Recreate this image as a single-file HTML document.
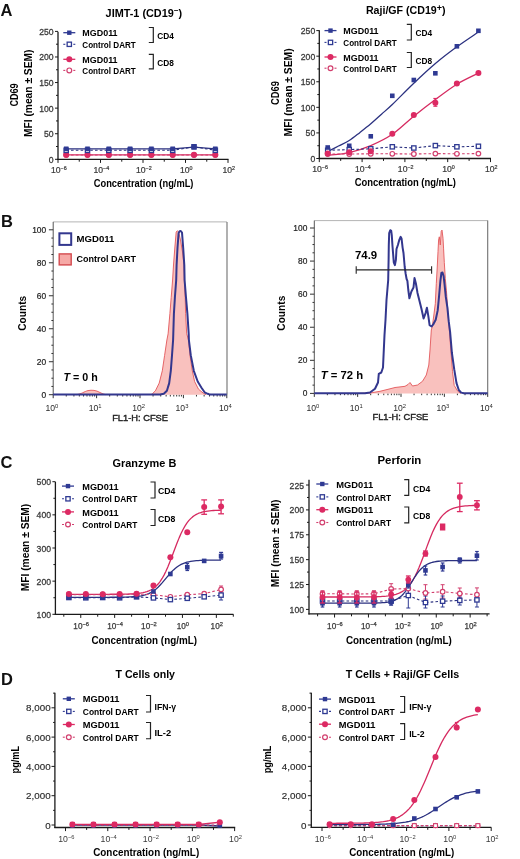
<!DOCTYPE html>
<html><head><meta charset="utf-8"><style>
html,body{margin:0;padding:0;background:#fff;}
svg{display:block;filter:blur(0.3px);font-family:"Liberation Sans",sans-serif;}
</style></head><body>
<svg width="520" height="859" viewBox="0 0 520 859">
<rect width="520" height="859" fill="#fff"/>
<text x="0.6" y="16.3" font-size="16.5" font-weight="bold" fill="#111" >A</text>
<line x1="58" y1="31.8" x2="58" y2="159.9" stroke="#1a1a1a" stroke-width="1.3" stroke-linecap="butt"/>
<line x1="57.4" y1="159.3" x2="228.5" y2="159.3" stroke="#1a1a1a" stroke-width="1.3" stroke-linecap="butt"/>
<line x1="55" y1="159.3" x2="58" y2="159.3" stroke="#1a1a1a" stroke-width="1.0" stroke-linecap="butt"/>
<text transform="translate(53.6 162.8) scale(0.9 1)" x="0" y="0" font-size="9.6" text-anchor="end" fill="#3a3a3a" stroke="#3a3a3a" stroke-width="0.3">0</text>
<line x1="55" y1="133.72" x2="58" y2="133.72" stroke="#1a1a1a" stroke-width="1.0" stroke-linecap="butt"/>
<text transform="translate(53.6 137.22) scale(0.9 1)" x="0" y="0" font-size="9.6" text-anchor="end" fill="#3a3a3a" stroke="#3a3a3a" stroke-width="0.3">50</text>
<line x1="55" y1="108.14" x2="58" y2="108.14" stroke="#1a1a1a" stroke-width="1.0" stroke-linecap="butt"/>
<text transform="translate(53.6 111.64) scale(0.9 1)" x="0" y="0" font-size="9.6" text-anchor="end" fill="#3a3a3a" stroke="#3a3a3a" stroke-width="0.3">100</text>
<line x1="55" y1="82.56" x2="58" y2="82.56" stroke="#1a1a1a" stroke-width="1.0" stroke-linecap="butt"/>
<text transform="translate(53.6 86.06) scale(0.9 1)" x="0" y="0" font-size="9.6" text-anchor="end" fill="#3a3a3a" stroke="#3a3a3a" stroke-width="0.3">150</text>
<line x1="55" y1="56.98" x2="58" y2="56.98" stroke="#1a1a1a" stroke-width="1.0" stroke-linecap="butt"/>
<text transform="translate(53.6 60.48) scale(0.9 1)" x="0" y="0" font-size="9.6" text-anchor="end" fill="#3a3a3a" stroke="#3a3a3a" stroke-width="0.3">200</text>
<line x1="55" y1="31.4" x2="58" y2="31.4" stroke="#1a1a1a" stroke-width="1.0" stroke-linecap="butt"/>
<text transform="translate(53.6 34.9) scale(0.9 1)" x="0" y="0" font-size="9.6" text-anchor="end" fill="#3a3a3a" stroke="#3a3a3a" stroke-width="0.3">250</text>
<line x1="56" y1="146.51" x2="58" y2="146.51" stroke="#1a1a1a" stroke-width="1.0" stroke-linecap="butt"/>
<line x1="56" y1="120.93" x2="58" y2="120.93" stroke="#1a1a1a" stroke-width="1.0" stroke-linecap="butt"/>
<line x1="56" y1="95.35" x2="58" y2="95.35" stroke="#1a1a1a" stroke-width="1.0" stroke-linecap="butt"/>
<line x1="56" y1="69.77" x2="58" y2="69.77" stroke="#1a1a1a" stroke-width="1.0" stroke-linecap="butt"/>
<line x1="56" y1="44.19" x2="58" y2="44.19" stroke="#1a1a1a" stroke-width="1.0" stroke-linecap="butt"/>
<line x1="58" y1="159.3" x2="58" y2="162.9" stroke="#1a1a1a" stroke-width="1.0" stroke-linecap="butt"/>
<text transform="translate(58.8 172.8) scale(0.9 1)" x="0" y="0" font-size="9.6" text-anchor="middle" fill="#3a3a3a" stroke="#3a3a3a" stroke-width="0.25">10<tspan font-size="5.95" dy="-2.88">&#8722;6</tspan></text>
<line x1="79.25" y1="159.3" x2="79.25" y2="161.7" stroke="#1a1a1a" stroke-width="1.0" stroke-linecap="butt"/>
<line x1="100.5" y1="159.3" x2="100.5" y2="162.9" stroke="#1a1a1a" stroke-width="1.0" stroke-linecap="butt"/>
<text transform="translate(101.3 172.8) scale(0.9 1)" x="0" y="0" font-size="9.6" text-anchor="middle" fill="#3a3a3a" stroke="#3a3a3a" stroke-width="0.25">10<tspan font-size="5.95" dy="-2.88">&#8722;4</tspan></text>
<line x1="121.75" y1="159.3" x2="121.75" y2="161.7" stroke="#1a1a1a" stroke-width="1.0" stroke-linecap="butt"/>
<line x1="143" y1="159.3" x2="143" y2="162.9" stroke="#1a1a1a" stroke-width="1.0" stroke-linecap="butt"/>
<text transform="translate(143.8 172.8) scale(0.9 1)" x="0" y="0" font-size="9.6" text-anchor="middle" fill="#3a3a3a" stroke="#3a3a3a" stroke-width="0.25">10<tspan font-size="5.95" dy="-2.88">&#8722;2</tspan></text>
<line x1="164.25" y1="159.3" x2="164.25" y2="161.7" stroke="#1a1a1a" stroke-width="1.0" stroke-linecap="butt"/>
<line x1="185.5" y1="159.3" x2="185.5" y2="162.9" stroke="#1a1a1a" stroke-width="1.0" stroke-linecap="butt"/>
<text transform="translate(186.3 172.8) scale(0.9 1)" x="0" y="0" font-size="9.6" text-anchor="middle" fill="#3a3a3a" stroke="#3a3a3a" stroke-width="0.25">10<tspan font-size="5.95" dy="-2.88">0</tspan></text>
<line x1="206.75" y1="159.3" x2="206.75" y2="161.7" stroke="#1a1a1a" stroke-width="1.0" stroke-linecap="butt"/>
<line x1="228" y1="159.3" x2="228" y2="162.9" stroke="#1a1a1a" stroke-width="1.0" stroke-linecap="butt"/>
<text transform="translate(228.8 172.8) scale(0.9 1)" x="0" y="0" font-size="9.6" text-anchor="middle" fill="#3a3a3a" stroke="#3a3a3a" stroke-width="0.25">10<tspan font-size="5.95" dy="-2.88">2</tspan></text>
<text x="105.6" y="17.3" font-size="10.2" font-weight="bold" textLength="76.5" lengthAdjust="spacingAndGlyphs" >JIMT-1 (CD19<tspan font-size="7.5" dy="-4.2">&#8722;</tspan><tspan dy="4.2">)</tspan></text>
<text x="143.6" y="187" font-size="10.2" font-weight="bold" text-anchor="middle" textLength="99.7" lengthAdjust="spacingAndGlyphs" >Concentration (ng/mL)</text>
<text x="17.8" y="95" font-size="10.2" font-weight="bold" text-anchor="middle" textLength="23.2" lengthAdjust="spacingAndGlyphs" transform="rotate(-90 17.8 95)" >CD69</text>
<text x="32.2" y="93.3" font-size="10.2" font-weight="bold" text-anchor="middle" textLength="87.5" lengthAdjust="spacingAndGlyphs" transform="rotate(-90 32.2 93.3)" >MFI (mean &#177; SEM)</text>
<polyline points="66.2,148.8 87.5,148.8 108.8,148.8 130.1,148.8 151.4,148.8 172.7,148.8 194,147.2 215.3,148.8" fill="none" stroke="#2b3180" stroke-width="1.3" stroke-linejoin="round"/>
<polyline points="66.2,150.3 87.5,150.3 108.8,150.3 130.1,150.3 151.4,150.3 172.7,150.3 194,146.8 215.3,150.3" fill="none" stroke="#2b3180" stroke-width="1.1" stroke-linejoin="round" stroke-dasharray="2.6,2.2"/>
<polyline points="66.2,154.8 87.5,154.8 108.8,154.8 130.1,154.8 151.4,154.8 172.7,154.8 194,154.8 215.3,154.8" fill="none" stroke="#d62a60" stroke-width="1.3" stroke-linejoin="round"/>
<polyline points="66.2,155 87.5,155 108.8,155 130.1,155 151.4,155 172.7,155 194,155 215.3,155" fill="none" stroke="#d23f6e" stroke-width="1.1" stroke-linejoin="round" stroke-dasharray="2.6,2.2"/>
<circle cx="66.2" cy="155" r="2.3" fill="#fff" stroke="#d23f6e" stroke-width="1.2"/>
<circle cx="87.5" cy="155" r="2.3" fill="#fff" stroke="#d23f6e" stroke-width="1.2"/>
<circle cx="108.8" cy="155" r="2.3" fill="#fff" stroke="#d23f6e" stroke-width="1.2"/>
<circle cx="130.1" cy="155" r="2.3" fill="#fff" stroke="#d23f6e" stroke-width="1.2"/>
<circle cx="151.4" cy="155" r="2.3" fill="#fff" stroke="#d23f6e" stroke-width="1.2"/>
<circle cx="172.7" cy="155" r="2.3" fill="#fff" stroke="#d23f6e" stroke-width="1.2"/>
<circle cx="194" cy="155" r="2.3" fill="#fff" stroke="#d23f6e" stroke-width="1.2"/>
<circle cx="215.3" cy="155" r="2.3" fill="#fff" stroke="#d23f6e" stroke-width="1.2"/>
<circle cx="66.2" cy="154.8" r="3" fill="#dc2a63"/>
<circle cx="87.5" cy="154.8" r="3" fill="#dc2a63"/>
<circle cx="108.8" cy="154.8" r="3" fill="#dc2a63"/>
<circle cx="130.1" cy="154.8" r="3" fill="#dc2a63"/>
<circle cx="151.4" cy="154.8" r="3" fill="#dc2a63"/>
<circle cx="172.7" cy="154.8" r="3" fill="#dc2a63"/>
<circle cx="194" cy="154.8" r="3" fill="#dc2a63"/>
<circle cx="215.3" cy="154.8" r="3" fill="#dc2a63"/>
<rect x="64.05" y="148.15" width="4.3" height="4.3" fill="#fff" stroke="#2f3a93" stroke-width="1.3"/>
<rect x="85.35" y="148.15" width="4.3" height="4.3" fill="#fff" stroke="#2f3a93" stroke-width="1.3"/>
<rect x="106.65" y="148.15" width="4.3" height="4.3" fill="#fff" stroke="#2f3a93" stroke-width="1.3"/>
<rect x="127.95" y="148.15" width="4.3" height="4.3" fill="#fff" stroke="#2f3a93" stroke-width="1.3"/>
<rect x="149.25" y="148.15" width="4.3" height="4.3" fill="#fff" stroke="#2f3a93" stroke-width="1.3"/>
<rect x="170.55" y="148.15" width="4.3" height="4.3" fill="#fff" stroke="#2f3a93" stroke-width="1.3"/>
<rect x="191.85" y="144.65" width="4.3" height="4.3" fill="#fff" stroke="#2f3a93" stroke-width="1.3"/>
<rect x="213.15" y="148.15" width="4.3" height="4.3" fill="#fff" stroke="#2f3a93" stroke-width="1.3"/>
<rect x="63.9" y="146.5" width="4.6" height="4.6" fill="#2f3a93"/>
<rect x="85.2" y="146.5" width="4.6" height="4.6" fill="#2f3a93"/>
<rect x="106.5" y="146.5" width="4.6" height="4.6" fill="#2f3a93"/>
<rect x="127.8" y="146.5" width="4.6" height="4.6" fill="#2f3a93"/>
<rect x="149.1" y="146.5" width="4.6" height="4.6" fill="#2f3a93"/>
<rect x="170.4" y="146.5" width="4.6" height="4.6" fill="#2f3a93"/>
<rect x="191.7" y="144.9" width="4.6" height="4.6" fill="#2f3a93"/>
<rect x="213" y="146.5" width="4.6" height="4.6" fill="#2f3a93"/>
<line x1="63.3" y1="32.7" x2="75.3" y2="32.7" stroke="#2f3a93" stroke-width="1.3" stroke-linecap="butt"/>
<rect x="67.1" y="30.5" width="4.4" height="4.4" fill="#2f3a93"/>
<text x="82.3" y="36.3" font-size="9" font-weight="bold" textLength="35.3" lengthAdjust="spacingAndGlyphs" >MGD011</text>
<line x1="63.3" y1="44.3" x2="65.3" y2="44.3" stroke="#2f3a93" stroke-width="1.1" stroke-linecap="butt"/>
<line x1="73.3" y1="44.3" x2="75.3" y2="44.3" stroke="#2f3a93" stroke-width="1.1" stroke-linecap="butt"/>
<rect x="67.15" y="42.15" width="4.3" height="4.3" fill="#fff" stroke="#2f3a93" stroke-width="1.3"/>
<text x="82.3" y="47.9" font-size="9" font-weight="bold" textLength="53.5" lengthAdjust="spacingAndGlyphs" >Control DART</text>
<line x1="63.3" y1="59.3" x2="75.3" y2="59.3" stroke="#dc2a63" stroke-width="1.3" stroke-linecap="butt"/>
<circle cx="69.3" cy="59.3" r="3" fill="#dc2a63"/>
<text x="82.3" y="62.9" font-size="9" font-weight="bold" textLength="35.3" lengthAdjust="spacingAndGlyphs" >MGD011</text>
<line x1="63.3" y1="70.4" x2="65.3" y2="70.4" stroke="#d23f6e" stroke-width="1.1" stroke-linecap="butt"/>
<line x1="73.3" y1="70.4" x2="75.3" y2="70.4" stroke="#d23f6e" stroke-width="1.1" stroke-linecap="butt"/>
<circle cx="69.3" cy="70.4" r="2.4" fill="#fff" stroke="#d23f6e" stroke-width="1.2"/>
<text x="82.3" y="74" font-size="9" font-weight="bold" textLength="53.5" lengthAdjust="spacingAndGlyphs" >Control DART</text>
<path d="M148.8,27.5H153.3V42.5H148.8" fill="none" stroke="#222" stroke-width="1.2" />
<text x="157.3" y="39.1" font-size="9" font-weight="bold" textLength="16.6" lengthAdjust="spacingAndGlyphs" >CD4</text>
<path d="M148.8,54.3H153.3V68.8H148.8" fill="none" stroke="#222" stroke-width="1.2" />
<text x="157.3" y="65.65" font-size="9" font-weight="bold" textLength="16.6" lengthAdjust="spacingAndGlyphs" >CD8</text>
<line x1="319.3" y1="30.3" x2="319.3" y2="159.1" stroke="#1a1a1a" stroke-width="1.3" stroke-linecap="butt"/>
<line x1="318.7" y1="158.5" x2="491" y2="158.5" stroke="#1a1a1a" stroke-width="1.3" stroke-linecap="butt"/>
<line x1="316.3" y1="158.5" x2="319.3" y2="158.5" stroke="#1a1a1a" stroke-width="1.0" stroke-linecap="butt"/>
<text transform="translate(315.2 162) scale(0.9 1)" x="0" y="0" font-size="9.6" text-anchor="end" fill="#3a3a3a" stroke="#3a3a3a" stroke-width="0.3">0</text>
<line x1="316.3" y1="132.92" x2="319.3" y2="132.92" stroke="#1a1a1a" stroke-width="1.0" stroke-linecap="butt"/>
<text transform="translate(315.2 136.42) scale(0.9 1)" x="0" y="0" font-size="9.6" text-anchor="end" fill="#3a3a3a" stroke="#3a3a3a" stroke-width="0.3">50</text>
<line x1="316.3" y1="107.34" x2="319.3" y2="107.34" stroke="#1a1a1a" stroke-width="1.0" stroke-linecap="butt"/>
<text transform="translate(315.2 110.84) scale(0.9 1)" x="0" y="0" font-size="9.6" text-anchor="end" fill="#3a3a3a" stroke="#3a3a3a" stroke-width="0.3">100</text>
<line x1="316.3" y1="81.76" x2="319.3" y2="81.76" stroke="#1a1a1a" stroke-width="1.0" stroke-linecap="butt"/>
<text transform="translate(315.2 85.26) scale(0.9 1)" x="0" y="0" font-size="9.6" text-anchor="end" fill="#3a3a3a" stroke="#3a3a3a" stroke-width="0.3">150</text>
<line x1="316.3" y1="56.18" x2="319.3" y2="56.18" stroke="#1a1a1a" stroke-width="1.0" stroke-linecap="butt"/>
<text transform="translate(315.2 59.68) scale(0.9 1)" x="0" y="0" font-size="9.6" text-anchor="end" fill="#3a3a3a" stroke="#3a3a3a" stroke-width="0.3">200</text>
<line x1="316.3" y1="30.6" x2="319.3" y2="30.6" stroke="#1a1a1a" stroke-width="1.0" stroke-linecap="butt"/>
<text transform="translate(315.2 34.1) scale(0.9 1)" x="0" y="0" font-size="9.6" text-anchor="end" fill="#3a3a3a" stroke="#3a3a3a" stroke-width="0.3">250</text>
<line x1="317.3" y1="145.71" x2="319.3" y2="145.71" stroke="#1a1a1a" stroke-width="1.0" stroke-linecap="butt"/>
<line x1="317.3" y1="120.13" x2="319.3" y2="120.13" stroke="#1a1a1a" stroke-width="1.0" stroke-linecap="butt"/>
<line x1="317.3" y1="94.55" x2="319.3" y2="94.55" stroke="#1a1a1a" stroke-width="1.0" stroke-linecap="butt"/>
<line x1="317.3" y1="68.97" x2="319.3" y2="68.97" stroke="#1a1a1a" stroke-width="1.0" stroke-linecap="butt"/>
<line x1="317.3" y1="43.39" x2="319.3" y2="43.39" stroke="#1a1a1a" stroke-width="1.0" stroke-linecap="butt"/>
<line x1="319.3" y1="158.5" x2="319.3" y2="162.1" stroke="#1a1a1a" stroke-width="1.0" stroke-linecap="butt"/>
<text transform="translate(320.1 172.3) scale(0.9 1)" x="0" y="0" font-size="9.6" text-anchor="middle" fill="#3a3a3a" stroke="#3a3a3a" stroke-width="0.25">10<tspan font-size="5.95" dy="-2.88">&#8722;6</tspan></text>
<line x1="340.7" y1="158.5" x2="340.7" y2="160.9" stroke="#1a1a1a" stroke-width="1.0" stroke-linecap="butt"/>
<line x1="362.1" y1="158.5" x2="362.1" y2="162.1" stroke="#1a1a1a" stroke-width="1.0" stroke-linecap="butt"/>
<text transform="translate(362.9 172.3) scale(0.9 1)" x="0" y="0" font-size="9.6" text-anchor="middle" fill="#3a3a3a" stroke="#3a3a3a" stroke-width="0.25">10<tspan font-size="5.95" dy="-2.88">&#8722;4</tspan></text>
<line x1="383.5" y1="158.5" x2="383.5" y2="160.9" stroke="#1a1a1a" stroke-width="1.0" stroke-linecap="butt"/>
<line x1="404.9" y1="158.5" x2="404.9" y2="162.1" stroke="#1a1a1a" stroke-width="1.0" stroke-linecap="butt"/>
<text transform="translate(405.7 172.3) scale(0.9 1)" x="0" y="0" font-size="9.6" text-anchor="middle" fill="#3a3a3a" stroke="#3a3a3a" stroke-width="0.25">10<tspan font-size="5.95" dy="-2.88">&#8722;2</tspan></text>
<line x1="426.3" y1="158.5" x2="426.3" y2="160.9" stroke="#1a1a1a" stroke-width="1.0" stroke-linecap="butt"/>
<line x1="447.7" y1="158.5" x2="447.7" y2="162.1" stroke="#1a1a1a" stroke-width="1.0" stroke-linecap="butt"/>
<text transform="translate(448.5 172.3) scale(0.9 1)" x="0" y="0" font-size="9.6" text-anchor="middle" fill="#3a3a3a" stroke="#3a3a3a" stroke-width="0.25">10<tspan font-size="5.95" dy="-2.88">0</tspan></text>
<line x1="469.1" y1="158.5" x2="469.1" y2="160.9" stroke="#1a1a1a" stroke-width="1.0" stroke-linecap="butt"/>
<line x1="490.5" y1="158.5" x2="490.5" y2="162.1" stroke="#1a1a1a" stroke-width="1.0" stroke-linecap="butt"/>
<text transform="translate(491.3 172.3) scale(0.9 1)" x="0" y="0" font-size="9.6" text-anchor="middle" fill="#3a3a3a" stroke="#3a3a3a" stroke-width="0.25">10<tspan font-size="5.95" dy="-2.88">2</tspan></text>
<text x="365.9" y="14.4" font-size="10.2" font-weight="bold" textLength="79.7" lengthAdjust="spacingAndGlyphs" >Raji/GF (CD19<tspan font-size="8.6" dy="-3.6">+</tspan><tspan dy="3.6">)</tspan></text>
<text x="405.3" y="186.2" font-size="10.2" font-weight="bold" text-anchor="middle" textLength="101" lengthAdjust="spacingAndGlyphs" >Concentration (ng/mL)</text>
<text x="278.7" y="93" font-size="10.2" font-weight="bold" text-anchor="middle" textLength="23.9" lengthAdjust="spacingAndGlyphs" transform="rotate(-90 278.7 93)" >CD69</text>
<text x="292.3" y="92.4" font-size="10.2" font-weight="bold" text-anchor="middle" textLength="88" lengthAdjust="spacingAndGlyphs" transform="rotate(-90 292.3 92.4)" >MFI (mean &#177; SEM)</text>
<path d="M327.7,151.5 C329.5,150.58 334.92,147.83 338.5,146 C342.08,144.17 345.62,142.77 349.2,140.5 C352.78,138.23 356.4,135.18 360,132.4 C363.6,129.62 367.22,126.83 370.8,123.8 C374.38,120.77 377.92,117.42 381.5,114.2 C385.08,110.98 386.92,109.67 392.3,104.5 C397.68,99.33 406.62,90.03 413.8,83.2 C420.98,76.37 428.22,69.57 435.4,63.5 C442.58,57.43 449.73,52.05 456.9,46.8 C464.07,41.55 474.82,34.47 478.4,32" fill="none" stroke="#2b3180" stroke-width="1.3" />
<path d="M327.7,155.2 C331.28,154.77 342.02,154.2 349.2,152.6 C356.38,151 363.62,148.65 370.8,145.6 C377.98,142.55 385.13,139.2 392.3,134.3 C399.47,129.4 406.62,122 413.8,116.2 C420.98,110.4 428.22,104.83 435.4,99.5 C442.58,94.17 449.73,88.58 456.9,84.2 C464.07,79.82 474.82,75.03 478.4,73.2" fill="none" stroke="#d62a60" stroke-width="1.3" />
<polyline points="327.7,150.3 349.23,149.6 370.76,148.8 392.29,146.8 413.82,148 435.35,145.6 456.88,146.8 478.41,146.3" fill="none" stroke="#2b3180" stroke-width="1.1" stroke-linejoin="round" stroke-dasharray="2.6,2.2"/>
<polyline points="327.7,154 349.23,154 370.76,153.8 392.29,153.8 413.82,154 435.35,153.6 456.88,153.8 478.41,153.6" fill="none" stroke="#d23f6e" stroke-width="1.1" stroke-linejoin="round" stroke-dasharray="2.6,2.2"/>
<circle cx="327.7" cy="154" r="2.3" fill="#fff" stroke="#d23f6e" stroke-width="1.2"/>
<circle cx="349.23" cy="154" r="2.3" fill="#fff" stroke="#d23f6e" stroke-width="1.2"/>
<circle cx="370.76" cy="153.8" r="2.3" fill="#fff" stroke="#d23f6e" stroke-width="1.2"/>
<circle cx="392.29" cy="153.8" r="2.3" fill="#fff" stroke="#d23f6e" stroke-width="1.2"/>
<circle cx="413.82" cy="154" r="2.3" fill="#fff" stroke="#d23f6e" stroke-width="1.2"/>
<circle cx="435.35" cy="153.6" r="2.3" fill="#fff" stroke="#d23f6e" stroke-width="1.2"/>
<circle cx="456.88" cy="153.8" r="2.3" fill="#fff" stroke="#d23f6e" stroke-width="1.2"/>
<circle cx="478.41" cy="153.6" r="2.3" fill="#fff" stroke="#d23f6e" stroke-width="1.2"/>
<rect x="325.55" y="148.15" width="4.3" height="4.3" fill="#fff" stroke="#2f3a93" stroke-width="1.3"/>
<rect x="347.08" y="147.45" width="4.3" height="4.3" fill="#fff" stroke="#2f3a93" stroke-width="1.3"/>
<rect x="368.61" y="146.65" width="4.3" height="4.3" fill="#fff" stroke="#2f3a93" stroke-width="1.3"/>
<rect x="390.14" y="144.65" width="4.3" height="4.3" fill="#fff" stroke="#2f3a93" stroke-width="1.3"/>
<rect x="411.67" y="145.85" width="4.3" height="4.3" fill="#fff" stroke="#2f3a93" stroke-width="1.3"/>
<rect x="433.2" y="143.45" width="4.3" height="4.3" fill="#fff" stroke="#2f3a93" stroke-width="1.3"/>
<rect x="454.73" y="144.65" width="4.3" height="4.3" fill="#fff" stroke="#2f3a93" stroke-width="1.3"/>
<rect x="476.26" y="144.15" width="4.3" height="4.3" fill="#fff" stroke="#2f3a93" stroke-width="1.3"/>
<line x1="435.35" y1="98.5" x2="435.35" y2="106.2" stroke="#dc2a63" stroke-width="1.2" stroke-linecap="butt"/>
<line x1="433.35" y1="98.5" x2="437.35" y2="98.5" stroke="#dc2a63" stroke-width="1.2" stroke-linecap="butt"/>
<line x1="433.35" y1="106.2" x2="437.35" y2="106.2" stroke="#dc2a63" stroke-width="1.2" stroke-linecap="butt"/>
<circle cx="327.7" cy="153.5" r="3" fill="#dc2a63"/>
<circle cx="349.23" cy="152.2" r="3" fill="#dc2a63"/>
<circle cx="370.76" cy="151.2" r="3" fill="#dc2a63"/>
<circle cx="392.29" cy="133.8" r="3" fill="#dc2a63"/>
<circle cx="413.82" cy="115" r="3" fill="#dc2a63"/>
<circle cx="435.35" cy="102.7" r="3" fill="#dc2a63"/>
<circle cx="456.88" cy="83.5" r="3" fill="#dc2a63"/>
<circle cx="478.41" cy="72.9" r="3" fill="#dc2a63"/>
<rect x="325.4" y="145.2" width="4.6" height="4.6" fill="#2f3a93"/>
<rect x="346.93" y="143.5" width="4.6" height="4.6" fill="#2f3a93"/>
<rect x="368.46" y="134" width="4.6" height="4.6" fill="#2f3a93"/>
<rect x="389.99" y="93.5" width="4.6" height="4.6" fill="#2f3a93"/>
<rect x="411.52" y="77.7" width="4.6" height="4.6" fill="#2f3a93"/>
<rect x="433.05" y="71" width="4.6" height="4.6" fill="#2f3a93"/>
<rect x="454.58" y="44" width="4.6" height="4.6" fill="#2f3a93"/>
<rect x="476.11" y="28.5" width="4.6" height="4.6" fill="#2f3a93"/>
<line x1="324.5" y1="30.6" x2="336.5" y2="30.6" stroke="#2f3a93" stroke-width="1.3" stroke-linecap="butt"/>
<rect x="328.3" y="28.4" width="4.4" height="4.4" fill="#2f3a93"/>
<text x="343.3" y="34.2" font-size="9" font-weight="bold" textLength="35.3" lengthAdjust="spacingAndGlyphs" >MGD011</text>
<line x1="324.5" y1="42.4" x2="326.5" y2="42.4" stroke="#2f3a93" stroke-width="1.1" stroke-linecap="butt"/>
<line x1="334.5" y1="42.4" x2="336.5" y2="42.4" stroke="#2f3a93" stroke-width="1.1" stroke-linecap="butt"/>
<rect x="328.35" y="40.25" width="4.3" height="4.3" fill="#fff" stroke="#2f3a93" stroke-width="1.3"/>
<text x="343.3" y="46" font-size="9" font-weight="bold" textLength="53.5" lengthAdjust="spacingAndGlyphs" >Control DART</text>
<line x1="324.5" y1="57" x2="336.5" y2="57" stroke="#dc2a63" stroke-width="1.3" stroke-linecap="butt"/>
<circle cx="330.5" cy="57" r="3" fill="#dc2a63"/>
<text x="343.3" y="60.6" font-size="9" font-weight="bold" textLength="35.3" lengthAdjust="spacingAndGlyphs" >MGD011</text>
<line x1="324.5" y1="68.2" x2="326.5" y2="68.2" stroke="#d23f6e" stroke-width="1.1" stroke-linecap="butt"/>
<line x1="334.5" y1="68.2" x2="336.5" y2="68.2" stroke="#d23f6e" stroke-width="1.1" stroke-linecap="butt"/>
<circle cx="330.5" cy="68.2" r="2.4" fill="#fff" stroke="#d23f6e" stroke-width="1.2"/>
<text x="343.3" y="71.8" font-size="9" font-weight="bold" textLength="53.5" lengthAdjust="spacingAndGlyphs" >Control DART</text>
<path d="M406.8,24.3H411.3V40H406.8" fill="none" stroke="#222" stroke-width="1.2" />
<text x="415.6" y="36.25" font-size="9" font-weight="bold" textLength="16.6" lengthAdjust="spacingAndGlyphs" >CD4</text>
<path d="M406.8,52.5H411.3V67.5H406.8" fill="none" stroke="#222" stroke-width="1.2" />
<text x="415.6" y="64.1" font-size="9" font-weight="bold" textLength="16.6" lengthAdjust="spacingAndGlyphs" >CD8</text>
<text x="0.9" y="227.3" font-size="16.5" font-weight="bold" fill="#111" >B</text>
<line x1="53.2" y1="221.9" x2="227" y2="221.9" stroke="#b4b4b4" stroke-width="1.0" stroke-linecap="butt"/>
<line x1="227" y1="221.9" x2="227" y2="394.7" stroke="#707070" stroke-width="1.1" stroke-linecap="butt"/>
<line x1="53.2" y1="221.9" x2="53.2" y2="394.7" stroke="#555" stroke-width="1.0" stroke-linecap="butt"/>
<line x1="48.9" y1="394.7" x2="53.2" y2="394.7" stroke="#333" stroke-width="1.0" stroke-linecap="butt"/>
<text x="46.2" y="397.6" font-size="8.4" text-anchor="end" fill="#222" stroke="#222" stroke-width="0.2">0</text>
<line x1="51.4" y1="386.45" x2="53.2" y2="386.45" stroke="#333" stroke-width="1.0" stroke-linecap="butt"/>
<line x1="51.4" y1="378.21" x2="53.2" y2="378.21" stroke="#333" stroke-width="1.0" stroke-linecap="butt"/>
<line x1="51.4" y1="369.96" x2="53.2" y2="369.96" stroke="#333" stroke-width="1.0" stroke-linecap="butt"/>
<line x1="48.9" y1="361.72" x2="53.2" y2="361.72" stroke="#333" stroke-width="1.0" stroke-linecap="butt"/>
<text x="46.2" y="364.62" font-size="8.4" text-anchor="end" fill="#222" stroke="#222" stroke-width="0.2">20</text>
<line x1="51.4" y1="353.48" x2="53.2" y2="353.48" stroke="#333" stroke-width="1.0" stroke-linecap="butt"/>
<line x1="51.4" y1="345.23" x2="53.2" y2="345.23" stroke="#333" stroke-width="1.0" stroke-linecap="butt"/>
<line x1="51.4" y1="336.99" x2="53.2" y2="336.99" stroke="#333" stroke-width="1.0" stroke-linecap="butt"/>
<line x1="48.9" y1="328.74" x2="53.2" y2="328.74" stroke="#333" stroke-width="1.0" stroke-linecap="butt"/>
<text x="46.2" y="331.64" font-size="8.4" text-anchor="end" fill="#222" stroke="#222" stroke-width="0.2">40</text>
<line x1="51.4" y1="320.5" x2="53.2" y2="320.5" stroke="#333" stroke-width="1.0" stroke-linecap="butt"/>
<line x1="51.4" y1="312.25" x2="53.2" y2="312.25" stroke="#333" stroke-width="1.0" stroke-linecap="butt"/>
<line x1="51.4" y1="304" x2="53.2" y2="304" stroke="#333" stroke-width="1.0" stroke-linecap="butt"/>
<line x1="48.9" y1="295.76" x2="53.2" y2="295.76" stroke="#333" stroke-width="1.0" stroke-linecap="butt"/>
<text x="46.2" y="298.66" font-size="8.4" text-anchor="end" fill="#222" stroke="#222" stroke-width="0.2">60</text>
<line x1="51.4" y1="287.51" x2="53.2" y2="287.51" stroke="#333" stroke-width="1.0" stroke-linecap="butt"/>
<line x1="51.4" y1="279.27" x2="53.2" y2="279.27" stroke="#333" stroke-width="1.0" stroke-linecap="butt"/>
<line x1="51.4" y1="271.02" x2="53.2" y2="271.02" stroke="#333" stroke-width="1.0" stroke-linecap="butt"/>
<line x1="48.9" y1="262.78" x2="53.2" y2="262.78" stroke="#333" stroke-width="1.0" stroke-linecap="butt"/>
<text x="46.2" y="265.68" font-size="8.4" text-anchor="end" fill="#222" stroke="#222" stroke-width="0.2">80</text>
<line x1="51.4" y1="254.53" x2="53.2" y2="254.53" stroke="#333" stroke-width="1.0" stroke-linecap="butt"/>
<line x1="51.4" y1="246.29" x2="53.2" y2="246.29" stroke="#333" stroke-width="1.0" stroke-linecap="butt"/>
<line x1="51.4" y1="238.05" x2="53.2" y2="238.05" stroke="#333" stroke-width="1.0" stroke-linecap="butt"/>
<line x1="48.9" y1="229.8" x2="53.2" y2="229.8" stroke="#333" stroke-width="1.0" stroke-linecap="butt"/>
<text x="46.2" y="232.7" font-size="8.4" text-anchor="end" fill="#222" stroke="#222" stroke-width="0.2">100</text>
<line x1="53.2" y1="394.7" x2="53.2" y2="398.2" stroke="#333" stroke-width="1.0" stroke-linecap="butt"/>
<line x1="66.26" y1="394.7" x2="66.26" y2="396.5" stroke="#333" stroke-width="1.0" stroke-linecap="butt"/>
<line x1="73.91" y1="394.7" x2="73.91" y2="396.5" stroke="#333" stroke-width="1.0" stroke-linecap="butt"/>
<line x1="79.33" y1="394.7" x2="79.33" y2="396.5" stroke="#333" stroke-width="1.0" stroke-linecap="butt"/>
<line x1="83.54" y1="394.7" x2="83.54" y2="396.5" stroke="#333" stroke-width="1.0" stroke-linecap="butt"/>
<line x1="86.97" y1="394.7" x2="86.97" y2="396.5" stroke="#333" stroke-width="1.0" stroke-linecap="butt"/>
<line x1="89.88" y1="394.7" x2="89.88" y2="396.5" stroke="#333" stroke-width="1.0" stroke-linecap="butt"/>
<line x1="92.39" y1="394.7" x2="92.39" y2="396.5" stroke="#333" stroke-width="1.0" stroke-linecap="butt"/>
<line x1="94.61" y1="394.7" x2="94.61" y2="396.5" stroke="#333" stroke-width="1.0" stroke-linecap="butt"/>
<line x1="96.6" y1="394.7" x2="96.6" y2="398.2" stroke="#333" stroke-width="1.0" stroke-linecap="butt"/>
<line x1="109.66" y1="394.7" x2="109.66" y2="396.5" stroke="#333" stroke-width="1.0" stroke-linecap="butt"/>
<line x1="117.31" y1="394.7" x2="117.31" y2="396.5" stroke="#333" stroke-width="1.0" stroke-linecap="butt"/>
<line x1="122.73" y1="394.7" x2="122.73" y2="396.5" stroke="#333" stroke-width="1.0" stroke-linecap="butt"/>
<line x1="126.94" y1="394.7" x2="126.94" y2="396.5" stroke="#333" stroke-width="1.0" stroke-linecap="butt"/>
<line x1="130.37" y1="394.7" x2="130.37" y2="396.5" stroke="#333" stroke-width="1.0" stroke-linecap="butt"/>
<line x1="133.28" y1="394.7" x2="133.28" y2="396.5" stroke="#333" stroke-width="1.0" stroke-linecap="butt"/>
<line x1="135.79" y1="394.7" x2="135.79" y2="396.5" stroke="#333" stroke-width="1.0" stroke-linecap="butt"/>
<line x1="138.01" y1="394.7" x2="138.01" y2="396.5" stroke="#333" stroke-width="1.0" stroke-linecap="butt"/>
<line x1="140" y1="394.7" x2="140" y2="398.2" stroke="#333" stroke-width="1.0" stroke-linecap="butt"/>
<line x1="153.06" y1="394.7" x2="153.06" y2="396.5" stroke="#333" stroke-width="1.0" stroke-linecap="butt"/>
<line x1="160.71" y1="394.7" x2="160.71" y2="396.5" stroke="#333" stroke-width="1.0" stroke-linecap="butt"/>
<line x1="166.13" y1="394.7" x2="166.13" y2="396.5" stroke="#333" stroke-width="1.0" stroke-linecap="butt"/>
<line x1="170.34" y1="394.7" x2="170.34" y2="396.5" stroke="#333" stroke-width="1.0" stroke-linecap="butt"/>
<line x1="173.77" y1="394.7" x2="173.77" y2="396.5" stroke="#333" stroke-width="1.0" stroke-linecap="butt"/>
<line x1="176.68" y1="394.7" x2="176.68" y2="396.5" stroke="#333" stroke-width="1.0" stroke-linecap="butt"/>
<line x1="179.19" y1="394.7" x2="179.19" y2="396.5" stroke="#333" stroke-width="1.0" stroke-linecap="butt"/>
<line x1="181.41" y1="394.7" x2="181.41" y2="396.5" stroke="#333" stroke-width="1.0" stroke-linecap="butt"/>
<line x1="183.4" y1="394.7" x2="183.4" y2="398.2" stroke="#333" stroke-width="1.0" stroke-linecap="butt"/>
<line x1="196.46" y1="394.7" x2="196.46" y2="396.5" stroke="#333" stroke-width="1.0" stroke-linecap="butt"/>
<line x1="204.11" y1="394.7" x2="204.11" y2="396.5" stroke="#333" stroke-width="1.0" stroke-linecap="butt"/>
<line x1="209.53" y1="394.7" x2="209.53" y2="396.5" stroke="#333" stroke-width="1.0" stroke-linecap="butt"/>
<line x1="213.74" y1="394.7" x2="213.74" y2="396.5" stroke="#333" stroke-width="1.0" stroke-linecap="butt"/>
<line x1="217.17" y1="394.7" x2="217.17" y2="396.5" stroke="#333" stroke-width="1.0" stroke-linecap="butt"/>
<line x1="220.08" y1="394.7" x2="220.08" y2="396.5" stroke="#333" stroke-width="1.0" stroke-linecap="butt"/>
<line x1="222.59" y1="394.7" x2="222.59" y2="396.5" stroke="#333" stroke-width="1.0" stroke-linecap="butt"/>
<line x1="224.81" y1="394.7" x2="224.81" y2="396.5" stroke="#333" stroke-width="1.0" stroke-linecap="butt"/>
<line x1="226.8" y1="394.7" x2="226.8" y2="398.2" stroke="#333" stroke-width="1.0" stroke-linecap="butt"/>
<text transform="translate(51.8 410.8) scale(1.0 1)" x="0" y="0" font-size="8.6" text-anchor="middle" fill="#2a2a2a">10<tspan font-size="5.85" dy="-3.1">0</tspan></text>
<text transform="translate(95.2 410.8) scale(1.0 1)" x="0" y="0" font-size="8.6" text-anchor="middle" fill="#2a2a2a">10<tspan font-size="5.85" dy="-3.1">1</tspan></text>
<text transform="translate(138.6 410.8) scale(1.0 1)" x="0" y="0" font-size="8.6" text-anchor="middle" fill="#2a2a2a">10<tspan font-size="5.85" dy="-3.1">2</tspan></text>
<text transform="translate(182 410.8) scale(1.0 1)" x="0" y="0" font-size="8.6" text-anchor="middle" fill="#2a2a2a">10<tspan font-size="5.85" dy="-3.1">3</tspan></text>
<text transform="translate(225.4 410.8) scale(1.0 1)" x="0" y="0" font-size="8.6" text-anchor="middle" fill="#2a2a2a">10<tspan font-size="5.85" dy="-3.1">4</tspan></text>
<text x="26.2" y="313.3" font-size="11" font-weight="bold" text-anchor="middle" textLength="35" lengthAdjust="spacingAndGlyphs" transform="rotate(-90 26.2 313.3)" >Counts</text>
<text x="112.2" y="421.4" font-size="9.4" textLength="55.8" lengthAdjust="spacingAndGlyphs" fill="#222" stroke="#222" stroke-width="0.4">FL1-H: CFSE</text>
<path d="M151,394.7 L152.3,393.8 L155.4,390.8 L159.2,383.1 L162.3,370.8 L164.6,355.4 L166.9,340 L168.1,333.8 L169.9,313.6 L171.2,297.5 L172.6,280 L173.5,265 L174.8,248 L176.2,232 L177.3,230.8 L178.6,232 L180.5,240 L182.5,252 L184,265 L184.3,280 L185.2,297.5 L185.6,313.6 L186.7,333.8 L188.5,340 L190,355.4 L192.3,370.8 L194.6,381.5 L198.5,389.2 L203.1,393 L206,394.7 Z" fill="#f9c1be" stroke="none" stroke-width="1" />
<path d="M151,394.7 L152.3,393.8 L155.4,390.8 L159.2,383.1 L162.3,370.8 L164.6,355.4 L166.9,340 L168.1,333.8 L169.9,313.6 L171.2,297.5 L172.6,280 L173.5,265 L174.8,248 L176.2,232 L177.3,230.8 L178.6,232 L180.5,240 L182.5,252 L184,265 L184.3,280 L185.2,297.5 L185.6,313.6 L186.7,333.8 L188.5,340 L190,355.4 L192.3,370.8 L194.6,381.5 L198.5,389.2 L203.1,393 L206,394.7" fill="none" stroke="#e2575a" stroke-width="0.9" />
<path d="M76,394.7 C82,394 84,391.5 88,390.6 C92,389.8 96,390.2 100,392.5 C102,393.6 104,394.4 106,394.7" fill="#f9c1be" stroke="none" stroke-width="1" />
<path d="M76,394.7 C82,394 84,391.5 88,390.6 C92,389.8 96,390.2 100,392.5 C102,393.6 104,394.4 106,394.7" fill="none" stroke="#e2575a" stroke-width="0.9" />
<polyline points="53.1,394.6 160,394.6 163.8,393.8 166.9,390.8 169.2,383.1 170.8,370.8 172,355.4 173.1,340 173.3,333.8 173.9,313.6 174.9,297.5 176.2,280 176.6,265 177.5,248 178.6,233 179.6,231.2 180.8,231 182,232.5 183.2,248 184.3,265 184.6,280 186,297.5 187.4,313.6 188.7,333.8 188.9,340 190.8,355.4 193.8,370.8 197.7,381.5 201.5,387.7 204.6,392.3 207.7,393.8 210,394.6 226.8,394.6" fill="none" stroke="#33378e" stroke-width="2.0" stroke-linejoin="round"/>
<rect x="59.4" y="233.3" width="11.8" height="11.6" fill="#fff" stroke="#33378e" stroke-width="2"/>
<rect x="59.2" y="253.9" width="12" height="11" fill="#f6a9a6" stroke="#d44a4e" stroke-width="1.4"/>
<text x="76.5" y="242.1" font-size="9.6" font-weight="bold" textLength="37.9" lengthAdjust="spacingAndGlyphs" >MGD011</text>
<text x="76.5" y="262.3" font-size="9.6" font-weight="bold" textLength="59.5" lengthAdjust="spacingAndGlyphs" >Control DART</text>
<text x="63.5" y="380.6" font-size="11.2" font-weight="bold" textLength="34.2" lengthAdjust="spacingAndGlyphs" ><tspan font-style="italic">T</tspan> = 0 h</text>
<line x1="314.3" y1="220.6" x2="487.7" y2="220.6" stroke="#b4b4b4" stroke-width="1.0" stroke-linecap="butt"/>
<line x1="487.7" y1="220.6" x2="487.7" y2="393.4" stroke="#707070" stroke-width="1.1" stroke-linecap="butt"/>
<line x1="314.3" y1="220.6" x2="314.3" y2="393.4" stroke="#555" stroke-width="1.0" stroke-linecap="butt"/>
<line x1="310" y1="393.4" x2="314.3" y2="393.4" stroke="#333" stroke-width="1.0" stroke-linecap="butt"/>
<text x="307.3" y="396.3" font-size="8.4" text-anchor="end" fill="#222" stroke="#222" stroke-width="0.2">0</text>
<line x1="312.5" y1="385.13" x2="314.3" y2="385.13" stroke="#333" stroke-width="1.0" stroke-linecap="butt"/>
<line x1="312.5" y1="376.86" x2="314.3" y2="376.86" stroke="#333" stroke-width="1.0" stroke-linecap="butt"/>
<line x1="312.5" y1="368.59" x2="314.3" y2="368.59" stroke="#333" stroke-width="1.0" stroke-linecap="butt"/>
<line x1="310" y1="360.32" x2="314.3" y2="360.32" stroke="#333" stroke-width="1.0" stroke-linecap="butt"/>
<text x="307.3" y="363.22" font-size="8.4" text-anchor="end" fill="#222" stroke="#222" stroke-width="0.2">20</text>
<line x1="312.5" y1="352.05" x2="314.3" y2="352.05" stroke="#333" stroke-width="1.0" stroke-linecap="butt"/>
<line x1="312.5" y1="343.78" x2="314.3" y2="343.78" stroke="#333" stroke-width="1.0" stroke-linecap="butt"/>
<line x1="312.5" y1="335.51" x2="314.3" y2="335.51" stroke="#333" stroke-width="1.0" stroke-linecap="butt"/>
<line x1="310" y1="327.24" x2="314.3" y2="327.24" stroke="#333" stroke-width="1.0" stroke-linecap="butt"/>
<text x="307.3" y="330.14" font-size="8.4" text-anchor="end" fill="#222" stroke="#222" stroke-width="0.2">40</text>
<line x1="312.5" y1="318.97" x2="314.3" y2="318.97" stroke="#333" stroke-width="1.0" stroke-linecap="butt"/>
<line x1="312.5" y1="310.7" x2="314.3" y2="310.7" stroke="#333" stroke-width="1.0" stroke-linecap="butt"/>
<line x1="312.5" y1="302.43" x2="314.3" y2="302.43" stroke="#333" stroke-width="1.0" stroke-linecap="butt"/>
<line x1="310" y1="294.16" x2="314.3" y2="294.16" stroke="#333" stroke-width="1.0" stroke-linecap="butt"/>
<text x="307.3" y="297.06" font-size="8.4" text-anchor="end" fill="#222" stroke="#222" stroke-width="0.2">60</text>
<line x1="312.5" y1="285.89" x2="314.3" y2="285.89" stroke="#333" stroke-width="1.0" stroke-linecap="butt"/>
<line x1="312.5" y1="277.62" x2="314.3" y2="277.62" stroke="#333" stroke-width="1.0" stroke-linecap="butt"/>
<line x1="312.5" y1="269.35" x2="314.3" y2="269.35" stroke="#333" stroke-width="1.0" stroke-linecap="butt"/>
<line x1="310" y1="261.08" x2="314.3" y2="261.08" stroke="#333" stroke-width="1.0" stroke-linecap="butt"/>
<text x="307.3" y="263.98" font-size="8.4" text-anchor="end" fill="#222" stroke="#222" stroke-width="0.2">80</text>
<line x1="312.5" y1="252.81" x2="314.3" y2="252.81" stroke="#333" stroke-width="1.0" stroke-linecap="butt"/>
<line x1="312.5" y1="244.54" x2="314.3" y2="244.54" stroke="#333" stroke-width="1.0" stroke-linecap="butt"/>
<line x1="312.5" y1="236.27" x2="314.3" y2="236.27" stroke="#333" stroke-width="1.0" stroke-linecap="butt"/>
<line x1="310" y1="228" x2="314.3" y2="228" stroke="#333" stroke-width="1.0" stroke-linecap="butt"/>
<text x="307.3" y="230.9" font-size="8.4" text-anchor="end" fill="#222" stroke="#222" stroke-width="0.2">100</text>
<line x1="314.3" y1="393.4" x2="314.3" y2="396.9" stroke="#333" stroke-width="1.0" stroke-linecap="butt"/>
<line x1="327.35" y1="393.4" x2="327.35" y2="395.2" stroke="#333" stroke-width="1.0" stroke-linecap="butt"/>
<line x1="334.98" y1="393.4" x2="334.98" y2="395.2" stroke="#333" stroke-width="1.0" stroke-linecap="butt"/>
<line x1="340.4" y1="393.4" x2="340.4" y2="395.2" stroke="#333" stroke-width="1.0" stroke-linecap="butt"/>
<line x1="344.6" y1="393.4" x2="344.6" y2="395.2" stroke="#333" stroke-width="1.0" stroke-linecap="butt"/>
<line x1="348.03" y1="393.4" x2="348.03" y2="395.2" stroke="#333" stroke-width="1.0" stroke-linecap="butt"/>
<line x1="350.94" y1="393.4" x2="350.94" y2="395.2" stroke="#333" stroke-width="1.0" stroke-linecap="butt"/>
<line x1="353.45" y1="393.4" x2="353.45" y2="395.2" stroke="#333" stroke-width="1.0" stroke-linecap="butt"/>
<line x1="355.67" y1="393.4" x2="355.67" y2="395.2" stroke="#333" stroke-width="1.0" stroke-linecap="butt"/>
<line x1="357.65" y1="393.4" x2="357.65" y2="396.9" stroke="#333" stroke-width="1.0" stroke-linecap="butt"/>
<line x1="370.7" y1="393.4" x2="370.7" y2="395.2" stroke="#333" stroke-width="1.0" stroke-linecap="butt"/>
<line x1="378.33" y1="393.4" x2="378.33" y2="395.2" stroke="#333" stroke-width="1.0" stroke-linecap="butt"/>
<line x1="383.75" y1="393.4" x2="383.75" y2="395.2" stroke="#333" stroke-width="1.0" stroke-linecap="butt"/>
<line x1="387.95" y1="393.4" x2="387.95" y2="395.2" stroke="#333" stroke-width="1.0" stroke-linecap="butt"/>
<line x1="391.38" y1="393.4" x2="391.38" y2="395.2" stroke="#333" stroke-width="1.0" stroke-linecap="butt"/>
<line x1="394.29" y1="393.4" x2="394.29" y2="395.2" stroke="#333" stroke-width="1.0" stroke-linecap="butt"/>
<line x1="396.8" y1="393.4" x2="396.8" y2="395.2" stroke="#333" stroke-width="1.0" stroke-linecap="butt"/>
<line x1="399.02" y1="393.4" x2="399.02" y2="395.2" stroke="#333" stroke-width="1.0" stroke-linecap="butt"/>
<line x1="401" y1="393.4" x2="401" y2="396.9" stroke="#333" stroke-width="1.0" stroke-linecap="butt"/>
<line x1="414.05" y1="393.4" x2="414.05" y2="395.2" stroke="#333" stroke-width="1.0" stroke-linecap="butt"/>
<line x1="421.68" y1="393.4" x2="421.68" y2="395.2" stroke="#333" stroke-width="1.0" stroke-linecap="butt"/>
<line x1="427.1" y1="393.4" x2="427.1" y2="395.2" stroke="#333" stroke-width="1.0" stroke-linecap="butt"/>
<line x1="431.3" y1="393.4" x2="431.3" y2="395.2" stroke="#333" stroke-width="1.0" stroke-linecap="butt"/>
<line x1="434.73" y1="393.4" x2="434.73" y2="395.2" stroke="#333" stroke-width="1.0" stroke-linecap="butt"/>
<line x1="437.64" y1="393.4" x2="437.64" y2="395.2" stroke="#333" stroke-width="1.0" stroke-linecap="butt"/>
<line x1="440.15" y1="393.4" x2="440.15" y2="395.2" stroke="#333" stroke-width="1.0" stroke-linecap="butt"/>
<line x1="442.37" y1="393.4" x2="442.37" y2="395.2" stroke="#333" stroke-width="1.0" stroke-linecap="butt"/>
<line x1="444.35" y1="393.4" x2="444.35" y2="396.9" stroke="#333" stroke-width="1.0" stroke-linecap="butt"/>
<line x1="457.4" y1="393.4" x2="457.4" y2="395.2" stroke="#333" stroke-width="1.0" stroke-linecap="butt"/>
<line x1="465.03" y1="393.4" x2="465.03" y2="395.2" stroke="#333" stroke-width="1.0" stroke-linecap="butt"/>
<line x1="470.45" y1="393.4" x2="470.45" y2="395.2" stroke="#333" stroke-width="1.0" stroke-linecap="butt"/>
<line x1="474.65" y1="393.4" x2="474.65" y2="395.2" stroke="#333" stroke-width="1.0" stroke-linecap="butt"/>
<line x1="478.08" y1="393.4" x2="478.08" y2="395.2" stroke="#333" stroke-width="1.0" stroke-linecap="butt"/>
<line x1="480.99" y1="393.4" x2="480.99" y2="395.2" stroke="#333" stroke-width="1.0" stroke-linecap="butt"/>
<line x1="483.5" y1="393.4" x2="483.5" y2="395.2" stroke="#333" stroke-width="1.0" stroke-linecap="butt"/>
<line x1="485.72" y1="393.4" x2="485.72" y2="395.2" stroke="#333" stroke-width="1.0" stroke-linecap="butt"/>
<line x1="487.7" y1="393.4" x2="487.7" y2="396.9" stroke="#333" stroke-width="1.0" stroke-linecap="butt"/>
<text transform="translate(312.9 410.8) scale(1.0 1)" x="0" y="0" font-size="8.6" text-anchor="middle" fill="#2a2a2a">10<tspan font-size="5.85" dy="-3.1">0</tspan></text>
<text transform="translate(356.25 410.8) scale(1.0 1)" x="0" y="0" font-size="8.6" text-anchor="middle" fill="#2a2a2a">10<tspan font-size="5.85" dy="-3.1">1</tspan></text>
<text transform="translate(399.6 410.8) scale(1.0 1)" x="0" y="0" font-size="8.6" text-anchor="middle" fill="#2a2a2a">10<tspan font-size="5.85" dy="-3.1">2</tspan></text>
<text transform="translate(442.95 410.8) scale(1.0 1)" x="0" y="0" font-size="8.6" text-anchor="middle" fill="#2a2a2a">10<tspan font-size="5.85" dy="-3.1">3</tspan></text>
<text transform="translate(486.3 410.8) scale(1.0 1)" x="0" y="0" font-size="8.6" text-anchor="middle" fill="#2a2a2a">10<tspan font-size="5.85" dy="-3.1">4</tspan></text>
<text x="285.4" y="313.2" font-size="11" font-weight="bold" text-anchor="middle" textLength="35" lengthAdjust="spacingAndGlyphs" transform="rotate(-90 285.4 313.2)" >Counts</text>
<text x="372.5" y="420" font-size="9.4" textLength="55.8" lengthAdjust="spacingAndGlyphs" fill="#222" stroke="#222" stroke-width="0.4">FL1-H: CFSE</text>
<path d="M360,393.4 L370,393 L380,391.3 L390,388.8 L395,387.5 L405,386.3 L408,384.5 L410,382.5 L412.5,386 L417.5,385 L422.5,381.3 L426.3,375 L428.8,365 L430,350 L431.3,330 L432.3,326.5 L433.6,317 L435.3,303.6 L436.3,283.5 L437.2,268 L438,251.6 L438.6,240 L439.3,236.8 L440.3,245 L441.2,231.4 L442,230.1 L443,238.2 L443.6,248.9 L444.3,262.4 L445.3,278.5 L446.4,290.2 L447.8,310.4 L449.1,326.5 L450.8,350 L452.5,371.5 L454.2,385.4 L457.7,391.2 L461,393.4 Z" fill="#f9c1be" stroke="none" stroke-width="1" />
<path d="M360,393.4 L370,393 L380,391.3 L390,388.8 L395,387.5 L405,386.3 L408,384.5 L410,382.5 L412.5,386 L417.5,385 L422.5,381.3 L426.3,375 L428.8,365 L430,350 L431.3,330 L432.3,326.5 L433.6,317 L435.3,303.6 L436.3,283.5 L437.2,268 L438,251.6 L438.6,240 L439.3,236.8 L440.3,245 L441.2,231.4 L442,230.1 L443,238.2 L443.6,248.9 L444.3,262.4 L445.3,278.5 L446.4,290.2 L447.8,310.4 L449.1,326.5 L450.8,350 L452.5,371.5 L454.2,385.4 L457.7,391.2 L461,393.4" fill="none" stroke="#e2575a" stroke-width="0.9" />
<polyline points="314.3,393.3 365,393.3 370,392.5 375,388.8 378,382.5 378.8,373.8 381.3,372.5 383,367.5 383.8,350 384.5,335 385.5,320 386.5,300 388.2,280 388.6,260 388.8,245 389.2,233 390.3,230.2 391.2,230.8 391.8,235.5 392.5,246.2 393.8,262.4 394.9,265.1 395.9,259.7 396.5,249 397.9,245 399.2,240.2 400.6,236.8 401.6,238.8 402.6,247.6 403.5,253 404.7,267 405.7,274 406.6,279 407.4,280.8 408.3,290 409.4,298.3 411.4,291.5 413.5,287.5 414.5,278.1 415.9,283.5 417.5,292.9 419.5,301 421.5,309 423.6,318.5 425.6,313.1 426.9,307.7 428.3,315.8 429.6,325.2 431.6,326.5 433.6,323.8 435.7,319.8 437.7,310.4 439,296.9 440.4,280.8 441.4,273 442.5,272.5 443.6,276 444.5,284 445.8,296.9 447.4,307.7 448.7,321.2 450.1,331.9 451.9,353 454.2,369.2 456.5,383.1 458.8,390 461.2,392.6 464,393.3 487.7,393.3" fill="none" stroke="#33378e" stroke-width="2.0" stroke-linejoin="round"/>
<line x1="356.2" y1="269.9" x2="431.6" y2="269.9" stroke="#262626" stroke-width="1.3" stroke-linecap="butt"/>
<line x1="356.2" y1="266.2" x2="356.2" y2="273.8" stroke="#262626" stroke-width="1.1" stroke-linecap="butt"/>
<line x1="431.6" y1="266.2" x2="431.6" y2="273.8" stroke="#262626" stroke-width="1.1" stroke-linecap="butt"/>
<text x="355" y="258.7" font-size="11.4" font-weight="bold" textLength="22.2" lengthAdjust="spacingAndGlyphs" >74.9</text>
<text x="320.8" y="379.3" font-size="11.2" font-weight="bold" textLength="42.3" lengthAdjust="spacingAndGlyphs" ><tspan font-style="italic">T</tspan> = 72 h</text>
<text x="0.4" y="468" font-size="16.5" font-weight="bold" fill="#111" >C</text>
<line x1="55.4" y1="481.8" x2="55.4" y2="614.9" stroke="#1a1a1a" stroke-width="1.3" stroke-linecap="butt"/>
<line x1="54.8" y1="614.3" x2="233.4" y2="614.3" stroke="#1a1a1a" stroke-width="1.3" stroke-linecap="butt"/>
<line x1="52.4" y1="614.3" x2="55.4" y2="614.3" stroke="#1a1a1a" stroke-width="1.0" stroke-linecap="butt"/>
<text transform="translate(51 617.8) scale(0.9 1)" x="0" y="0" font-size="9.6" text-anchor="end" fill="#3a3a3a" stroke="#3a3a3a" stroke-width="0.3">100</text>
<line x1="52.4" y1="581.15" x2="55.4" y2="581.15" stroke="#1a1a1a" stroke-width="1.0" stroke-linecap="butt"/>
<text transform="translate(51 584.65) scale(0.9 1)" x="0" y="0" font-size="9.6" text-anchor="end" fill="#3a3a3a" stroke="#3a3a3a" stroke-width="0.3">200</text>
<line x1="52.4" y1="548" x2="55.4" y2="548" stroke="#1a1a1a" stroke-width="1.0" stroke-linecap="butt"/>
<text transform="translate(51 551.5) scale(0.9 1)" x="0" y="0" font-size="9.6" text-anchor="end" fill="#3a3a3a" stroke="#3a3a3a" stroke-width="0.3">300</text>
<line x1="52.4" y1="514.85" x2="55.4" y2="514.85" stroke="#1a1a1a" stroke-width="1.0" stroke-linecap="butt"/>
<text transform="translate(51 518.35) scale(0.9 1)" x="0" y="0" font-size="9.6" text-anchor="end" fill="#3a3a3a" stroke="#3a3a3a" stroke-width="0.3">400</text>
<line x1="52.4" y1="481.7" x2="55.4" y2="481.7" stroke="#1a1a1a" stroke-width="1.0" stroke-linecap="butt"/>
<text transform="translate(51 485.2) scale(0.9 1)" x="0" y="0" font-size="9.6" text-anchor="end" fill="#3a3a3a" stroke="#3a3a3a" stroke-width="0.3">500</text>
<line x1="53.4" y1="597.72" x2="55.4" y2="597.72" stroke="#1a1a1a" stroke-width="1.0" stroke-linecap="butt"/>
<line x1="53.4" y1="564.57" x2="55.4" y2="564.57" stroke="#1a1a1a" stroke-width="1.0" stroke-linecap="butt"/>
<line x1="53.4" y1="531.42" x2="55.4" y2="531.42" stroke="#1a1a1a" stroke-width="1.0" stroke-linecap="butt"/>
<line x1="53.4" y1="498.27" x2="55.4" y2="498.27" stroke="#1a1a1a" stroke-width="1.0" stroke-linecap="butt"/>
<line x1="63.8" y1="614.3" x2="63.8" y2="616.7" stroke="#1a1a1a" stroke-width="1.0" stroke-linecap="butt"/>
<line x1="80.75" y1="614.3" x2="80.75" y2="617.9" stroke="#1a1a1a" stroke-width="1.0" stroke-linecap="butt"/>
<text transform="translate(81.15 628.6) scale(1.0 1)" x="0" y="0" font-size="8.2" text-anchor="middle" fill="#3a3a3a" stroke="#3a3a3a" stroke-width="0.25">10<tspan font-size="5.74" dy="-2.79">&#8722;6</tspan></text>
<line x1="97.7" y1="614.3" x2="97.7" y2="616.7" stroke="#1a1a1a" stroke-width="1.0" stroke-linecap="butt"/>
<line x1="114.65" y1="614.3" x2="114.65" y2="617.9" stroke="#1a1a1a" stroke-width="1.0" stroke-linecap="butt"/>
<text transform="translate(115.05 628.6) scale(1.0 1)" x="0" y="0" font-size="8.2" text-anchor="middle" fill="#3a3a3a" stroke="#3a3a3a" stroke-width="0.25">10<tspan font-size="5.74" dy="-2.79">&#8722;4</tspan></text>
<line x1="131.6" y1="614.3" x2="131.6" y2="616.7" stroke="#1a1a1a" stroke-width="1.0" stroke-linecap="butt"/>
<line x1="148.55" y1="614.3" x2="148.55" y2="617.9" stroke="#1a1a1a" stroke-width="1.0" stroke-linecap="butt"/>
<text transform="translate(148.95 628.6) scale(1.0 1)" x="0" y="0" font-size="8.2" text-anchor="middle" fill="#3a3a3a" stroke="#3a3a3a" stroke-width="0.25">10<tspan font-size="5.74" dy="-2.79">&#8722;2</tspan></text>
<line x1="165.5" y1="614.3" x2="165.5" y2="616.7" stroke="#1a1a1a" stroke-width="1.0" stroke-linecap="butt"/>
<line x1="182.45" y1="614.3" x2="182.45" y2="617.9" stroke="#1a1a1a" stroke-width="1.0" stroke-linecap="butt"/>
<text transform="translate(182.85 628.6) scale(1.0 1)" x="0" y="0" font-size="8.2" text-anchor="middle" fill="#3a3a3a" stroke="#3a3a3a" stroke-width="0.25">10<tspan font-size="5.74" dy="-2.79">0</tspan></text>
<line x1="199.4" y1="614.3" x2="199.4" y2="616.7" stroke="#1a1a1a" stroke-width="1.0" stroke-linecap="butt"/>
<line x1="216.35" y1="614.3" x2="216.35" y2="617.9" stroke="#1a1a1a" stroke-width="1.0" stroke-linecap="butt"/>
<text transform="translate(216.75 628.6) scale(1.0 1)" x="0" y="0" font-size="8.2" text-anchor="middle" fill="#3a3a3a" stroke="#3a3a3a" stroke-width="0.25">10<tspan font-size="5.74" dy="-2.79">2</tspan></text>
<line x1="233.3" y1="614.3" x2="233.3" y2="616.7" stroke="#1a1a1a" stroke-width="1.0" stroke-linecap="butt"/>
<text x="112.5" y="466.8" font-size="10.4" font-weight="bold" textLength="63.8" lengthAdjust="spacingAndGlyphs" >Granzyme B</text>
<text x="144.2" y="643.5" font-size="10.4" font-weight="bold" text-anchor="middle" textLength="105.5" lengthAdjust="spacingAndGlyphs" >Concentration (ng/mL)</text>
<text x="29.2" y="547.5" font-size="10.2" font-weight="bold" text-anchor="middle" textLength="87.5" lengthAdjust="spacingAndGlyphs" transform="rotate(-90 29.2 547.5)" >MFI (mean &#177; SEM)</text>
<polyline points="68.9,594.3 70.8,594.3 72.7,594.3 74.61,594.3 76.51,594.3 78.41,594.3 80.31,594.3 82.22,594.3 84.12,594.3 86.02,594.3 87.92,594.3 89.83,594.3 91.73,594.3 93.63,594.3 95.53,594.3 97.44,594.29 99.34,594.29 101.24,594.29 103.14,594.29 105.05,594.29 106.95,594.28 108.85,594.28 110.75,594.27 112.65,594.26 114.56,594.25 116.46,594.24 118.36,594.23 120.26,594.21 122.17,594.18 124.07,594.15 125.97,594.11 127.87,594.05 129.78,593.99 131.68,593.9 133.58,593.79 135.48,593.65 137.39,593.48 139.29,593.25 141.19,592.97 143.09,592.61 145,592.16 146.9,591.59 148.8,590.88 150.7,589.98 152.6,588.88 154.51,587.51 156.41,585.83 158.31,583.79 160.21,581.35 162.12,578.47 164.02,575.11 165.92,571.28 167.82,567.01 169.73,562.35 171.63,557.42 173.53,552.34 175.43,547.25 177.34,542.3 179.24,537.62 181.14,533.32 183.04,529.45 184.94,526.06 186.85,523.14 188.75,520.67 190.65,518.61 192.55,516.9 194.46,515.52 196.36,514.39 198.26,513.48 200.16,512.76 202.07,512.18 203.97,511.72 205.87,511.35 207.77,511.07 209.68,510.84 211.58,510.66 213.48,510.52 215.38,510.41 217.29,510.32 219.19,510.25 221.09,510.2" fill="none" stroke="#d62a60" stroke-width="1.3" stroke-linejoin="round"/>
<polyline points="68.9,597.3 70.8,597.3 72.7,597.3 74.61,597.3 76.51,597.3 78.41,597.3 80.31,597.3 82.22,597.3 84.12,597.3 86.02,597.3 87.92,597.3 89.83,597.3 91.73,597.3 93.63,597.3 95.53,597.3 97.44,597.29 99.34,597.29 101.24,597.29 103.14,597.29 105.05,597.29 106.95,597.28 108.85,597.28 110.75,597.27 112.65,597.26 114.56,597.25 116.46,597.24 118.36,597.22 120.26,597.2 122.17,597.17 124.07,597.13 125.97,597.09 127.87,597.03 129.78,596.95 131.68,596.86 133.58,596.74 135.48,596.58 137.39,596.38 139.29,596.13 141.19,595.82 143.09,595.43 145,594.93 146.9,594.32 148.8,593.57 150.7,592.65 152.6,591.55 154.51,590.24 156.41,588.72 158.31,586.98 160.21,585.03 162.12,582.92 164.02,580.68 165.92,578.38 167.82,576.09 169.73,573.88 171.63,571.8 173.53,569.9 175.43,568.21 177.34,566.73 179.24,565.48 181.14,564.42 183.04,563.54 184.94,562.82 186.85,562.24 188.75,561.77 190.65,561.4 192.55,561.1 194.46,560.87 196.36,560.68 198.26,560.53 200.16,560.42 202.07,560.33 203.97,560.26 205.87,560.2 207.77,560.16 209.68,560.12 211.58,560.1 213.48,560.07 215.38,560.06 217.29,560.05 219.19,560.04 221.09,560.03" fill="none" stroke="#2b3180" stroke-width="1.3" stroke-linejoin="round"/>
<polyline points="68.9,597.5 85.81,597.8 102.72,597.5 119.63,597.8 136.54,596.8 153.45,597.9 170.36,599.6 187.27,598.3 204.18,596.8 221.09,595.1" fill="none" stroke="#2b3180" stroke-width="1.1" stroke-linejoin="round" stroke-dasharray="2.6,2.2"/>
<polyline points="68.9,594.5 85.81,594.8 102.72,594.5 119.63,594.8 136.54,594 153.45,594.7 170.36,596.8 187.27,594.7 204.18,593.7 221.09,589.4" fill="none" stroke="#d23f6e" stroke-width="1.1" stroke-linejoin="round" stroke-dasharray="2.6,2.2"/>
<line x1="221.09" y1="586" x2="221.09" y2="593" stroke="#d23f6e" stroke-width="1.0" stroke-linecap="butt"/>
<line x1="219.09" y1="586" x2="223.09" y2="586" stroke="#d23f6e" stroke-width="1.0" stroke-linecap="butt"/>
<line x1="219.09" y1="593" x2="223.09" y2="593" stroke="#d23f6e" stroke-width="1.0" stroke-linecap="butt"/>
<line x1="221.09" y1="590.5" x2="221.09" y2="600" stroke="#2f3a93" stroke-width="1.0" stroke-linecap="butt"/>
<line x1="219.09" y1="590.5" x2="223.09" y2="590.5" stroke="#2f3a93" stroke-width="1.0" stroke-linecap="butt"/>
<line x1="219.09" y1="600" x2="223.09" y2="600" stroke="#2f3a93" stroke-width="1.0" stroke-linecap="butt"/>
<circle cx="68.9" cy="594.5" r="2.3" fill="#fff" stroke="#d23f6e" stroke-width="1.2"/>
<circle cx="85.81" cy="594.8" r="2.3" fill="#fff" stroke="#d23f6e" stroke-width="1.2"/>
<circle cx="102.72" cy="594.5" r="2.3" fill="#fff" stroke="#d23f6e" stroke-width="1.2"/>
<circle cx="119.63" cy="594.8" r="2.3" fill="#fff" stroke="#d23f6e" stroke-width="1.2"/>
<circle cx="136.54" cy="594" r="2.3" fill="#fff" stroke="#d23f6e" stroke-width="1.2"/>
<circle cx="153.45" cy="594.7" r="2.3" fill="#fff" stroke="#d23f6e" stroke-width="1.2"/>
<circle cx="170.36" cy="596.8" r="2.3" fill="#fff" stroke="#d23f6e" stroke-width="1.2"/>
<circle cx="187.27" cy="594.7" r="2.3" fill="#fff" stroke="#d23f6e" stroke-width="1.2"/>
<circle cx="204.18" cy="593.7" r="2.3" fill="#fff" stroke="#d23f6e" stroke-width="1.2"/>
<circle cx="221.09" cy="589.4" r="2.3" fill="#fff" stroke="#d23f6e" stroke-width="1.2"/>
<rect x="66.75" y="595.35" width="4.3" height="4.3" fill="#fff" stroke="#2f3a93" stroke-width="1.3"/>
<rect x="83.66" y="595.65" width="4.3" height="4.3" fill="#fff" stroke="#2f3a93" stroke-width="1.3"/>
<rect x="100.57" y="595.35" width="4.3" height="4.3" fill="#fff" stroke="#2f3a93" stroke-width="1.3"/>
<rect x="117.48" y="595.65" width="4.3" height="4.3" fill="#fff" stroke="#2f3a93" stroke-width="1.3"/>
<rect x="134.39" y="594.65" width="4.3" height="4.3" fill="#fff" stroke="#2f3a93" stroke-width="1.3"/>
<rect x="151.3" y="595.75" width="4.3" height="4.3" fill="#fff" stroke="#2f3a93" stroke-width="1.3"/>
<rect x="168.21" y="597.45" width="4.3" height="4.3" fill="#fff" stroke="#2f3a93" stroke-width="1.3"/>
<rect x="185.12" y="596.15" width="4.3" height="4.3" fill="#fff" stroke="#2f3a93" stroke-width="1.3"/>
<rect x="202.03" y="594.65" width="4.3" height="4.3" fill="#fff" stroke="#2f3a93" stroke-width="1.3"/>
<rect x="218.94" y="592.95" width="4.3" height="4.3" fill="#fff" stroke="#2f3a93" stroke-width="1.3"/>
<line x1="187.27" y1="563.5" x2="187.27" y2="570.5" stroke="#2f3a93" stroke-width="1.2" stroke-linecap="butt"/>
<line x1="185.47" y1="563.5" x2="189.07" y2="563.5" stroke="#2f3a93" stroke-width="1.2" stroke-linecap="butt"/>
<line x1="185.47" y1="570.5" x2="189.07" y2="570.5" stroke="#2f3a93" stroke-width="1.2" stroke-linecap="butt"/>
<line x1="221.09" y1="552.4" x2="221.09" y2="559" stroke="#2f3a93" stroke-width="1.2" stroke-linecap="butt"/>
<line x1="219.09" y1="552.4" x2="223.09" y2="552.4" stroke="#2f3a93" stroke-width="1.2" stroke-linecap="butt"/>
<line x1="219.09" y1="559" x2="223.09" y2="559" stroke="#2f3a93" stroke-width="1.2" stroke-linecap="butt"/>
<rect x="66.6" y="594.9" width="4.6" height="4.6" fill="#2f3a93"/>
<rect x="83.51" y="595.2" width="4.6" height="4.6" fill="#2f3a93"/>
<rect x="100.42" y="594.9" width="4.6" height="4.6" fill="#2f3a93"/>
<rect x="117.33" y="595.1" width="4.6" height="4.6" fill="#2f3a93"/>
<rect x="134.24" y="594.5" width="4.6" height="4.6" fill="#2f3a93"/>
<rect x="151.15" y="589.2" width="4.6" height="4.6" fill="#2f3a93"/>
<rect x="168.06" y="571.7" width="4.6" height="4.6" fill="#2f3a93"/>
<rect x="184.97" y="564.9" width="4.6" height="4.6" fill="#2f3a93"/>
<rect x="201.88" y="558.6" width="4.6" height="4.6" fill="#2f3a93"/>
<rect x="218.79" y="553.7" width="4.6" height="4.6" fill="#2f3a93"/>
<line x1="204.18" y1="499.9" x2="204.18" y2="514.3" stroke="#dc2a63" stroke-width="1.3" stroke-linecap="butt"/>
<line x1="201.28" y1="499.9" x2="207.08" y2="499.9" stroke="#dc2a63" stroke-width="1.3" stroke-linecap="butt"/>
<line x1="201.28" y1="514.3" x2="207.08" y2="514.3" stroke="#dc2a63" stroke-width="1.3" stroke-linecap="butt"/>
<line x1="221.09" y1="499.9" x2="221.09" y2="513.8" stroke="#dc2a63" stroke-width="1.3" stroke-linecap="butt"/>
<line x1="218.19" y1="499.9" x2="223.99" y2="499.9" stroke="#dc2a63" stroke-width="1.3" stroke-linecap="butt"/>
<line x1="218.19" y1="513.8" x2="223.99" y2="513.8" stroke="#dc2a63" stroke-width="1.3" stroke-linecap="butt"/>
<circle cx="68.9" cy="594" r="3" fill="#dc2a63"/>
<circle cx="85.81" cy="594" r="3" fill="#dc2a63"/>
<circle cx="102.72" cy="594.2" r="3" fill="#dc2a63"/>
<circle cx="119.63" cy="594" r="3" fill="#dc2a63"/>
<circle cx="136.54" cy="593.7" r="3" fill="#dc2a63"/>
<circle cx="153.45" cy="585.6" r="3" fill="#dc2a63"/>
<circle cx="170.36" cy="557.3" r="3" fill="#dc2a63"/>
<circle cx="187.27" cy="532.3" r="3" fill="#dc2a63"/>
<circle cx="204.18" cy="506.9" r="3" fill="#dc2a63"/>
<circle cx="221.09" cy="506.5" r="3" fill="#dc2a63"/>
<line x1="62" y1="486.1" x2="74" y2="486.1" stroke="#2f3a93" stroke-width="1.3" stroke-linecap="butt"/>
<rect x="65.8" y="483.9" width="4.4" height="4.4" fill="#2f3a93"/>
<text x="82.3" y="489.76" font-size="9.2" font-weight="bold" textLength="36.2" lengthAdjust="spacingAndGlyphs" >MGD011</text>
<line x1="62" y1="498.8" x2="64" y2="498.8" stroke="#2f3a93" stroke-width="1.1" stroke-linecap="butt"/>
<line x1="72" y1="498.8" x2="74" y2="498.8" stroke="#2f3a93" stroke-width="1.1" stroke-linecap="butt"/>
<rect x="65.85" y="496.65" width="4.3" height="4.3" fill="#fff" stroke="#2f3a93" stroke-width="1.3"/>
<text x="82.3" y="502.46" font-size="9.2" font-weight="bold" textLength="55" lengthAdjust="spacingAndGlyphs" >Control DART</text>
<line x1="62" y1="511.9" x2="74" y2="511.9" stroke="#dc2a63" stroke-width="1.3" stroke-linecap="butt"/>
<circle cx="68" cy="511.9" r="3" fill="#dc2a63"/>
<text x="82.3" y="515.56" font-size="9.2" font-weight="bold" textLength="36.2" lengthAdjust="spacingAndGlyphs" >MGD011</text>
<line x1="62" y1="524.5" x2="64" y2="524.5" stroke="#d23f6e" stroke-width="1.1" stroke-linecap="butt"/>
<line x1="72" y1="524.5" x2="74" y2="524.5" stroke="#d23f6e" stroke-width="1.1" stroke-linecap="butt"/>
<circle cx="68" cy="524.5" r="2.4" fill="#fff" stroke="#d23f6e" stroke-width="1.2"/>
<text x="82.3" y="528.16" font-size="9.2" font-weight="bold" textLength="55" lengthAdjust="spacingAndGlyphs" >Control DART</text>
<path d="M150.5,482H155V498H150.5" fill="none" stroke="#222" stroke-width="1.2" />
<text x="158" y="494.16" font-size="9.2" font-weight="bold" textLength="17.4" lengthAdjust="spacingAndGlyphs" >CD4</text>
<path d="M150.5,509.5H155V525.5H150.5" fill="none" stroke="#222" stroke-width="1.2" />
<text x="158" y="521.66" font-size="9.2" font-weight="bold" textLength="17.4" lengthAdjust="spacingAndGlyphs" >CD8</text>
<line x1="309" y1="479.7" x2="309" y2="614.5" stroke="#1a1a1a" stroke-width="1.3" stroke-linecap="butt"/>
<line x1="308.4" y1="613.9" x2="489.6" y2="613.9" stroke="#1a1a1a" stroke-width="1.3" stroke-linecap="butt"/>
<line x1="306" y1="609.4" x2="309" y2="609.4" stroke="#1a1a1a" stroke-width="1.0" stroke-linecap="butt"/>
<text transform="translate(304 612.9) scale(0.9 1)" x="0" y="0" font-size="9.6" text-anchor="end" fill="#3a3a3a" stroke="#3a3a3a" stroke-width="0.3">100</text>
<line x1="306" y1="584.52" x2="309" y2="584.52" stroke="#1a1a1a" stroke-width="1.0" stroke-linecap="butt"/>
<text transform="translate(304 588.02) scale(0.9 1)" x="0" y="0" font-size="9.6" text-anchor="end" fill="#3a3a3a" stroke="#3a3a3a" stroke-width="0.3">125</text>
<line x1="306" y1="559.65" x2="309" y2="559.65" stroke="#1a1a1a" stroke-width="1.0" stroke-linecap="butt"/>
<text transform="translate(304 563.15) scale(0.9 1)" x="0" y="0" font-size="9.6" text-anchor="end" fill="#3a3a3a" stroke="#3a3a3a" stroke-width="0.3">150</text>
<line x1="306" y1="534.77" x2="309" y2="534.77" stroke="#1a1a1a" stroke-width="1.0" stroke-linecap="butt"/>
<text transform="translate(304 538.27) scale(0.9 1)" x="0" y="0" font-size="9.6" text-anchor="end" fill="#3a3a3a" stroke="#3a3a3a" stroke-width="0.3">175</text>
<line x1="306" y1="509.9" x2="309" y2="509.9" stroke="#1a1a1a" stroke-width="1.0" stroke-linecap="butt"/>
<text transform="translate(304 513.4) scale(0.9 1)" x="0" y="0" font-size="9.6" text-anchor="end" fill="#3a3a3a" stroke="#3a3a3a" stroke-width="0.3">200</text>
<line x1="306" y1="485.02" x2="309" y2="485.02" stroke="#1a1a1a" stroke-width="1.0" stroke-linecap="butt"/>
<text transform="translate(304 488.52) scale(0.9 1)" x="0" y="0" font-size="9.6" text-anchor="end" fill="#3a3a3a" stroke="#3a3a3a" stroke-width="0.3">225</text>
<line x1="307" y1="596.96" x2="309" y2="596.96" stroke="#1a1a1a" stroke-width="1.0" stroke-linecap="butt"/>
<line x1="307" y1="572.09" x2="309" y2="572.09" stroke="#1a1a1a" stroke-width="1.0" stroke-linecap="butt"/>
<line x1="307" y1="547.21" x2="309" y2="547.21" stroke="#1a1a1a" stroke-width="1.0" stroke-linecap="butt"/>
<line x1="307" y1="522.34" x2="309" y2="522.34" stroke="#1a1a1a" stroke-width="1.0" stroke-linecap="butt"/>
<line x1="307" y1="497.46" x2="309" y2="497.46" stroke="#1a1a1a" stroke-width="1.0" stroke-linecap="butt"/>
<line x1="317.6" y1="613.9" x2="317.6" y2="616.3" stroke="#1a1a1a" stroke-width="1.0" stroke-linecap="butt"/>
<line x1="334.55" y1="613.9" x2="334.55" y2="617.5" stroke="#1a1a1a" stroke-width="1.0" stroke-linecap="butt"/>
<text transform="translate(334.95 628.6) scale(1.0 1)" x="0" y="0" font-size="8.2" text-anchor="middle" fill="#3a3a3a" stroke="#3a3a3a" stroke-width="0.25">10<tspan font-size="5.74" dy="-2.79">&#8722;6</tspan></text>
<line x1="351.5" y1="613.9" x2="351.5" y2="616.3" stroke="#1a1a1a" stroke-width="1.0" stroke-linecap="butt"/>
<line x1="368.45" y1="613.9" x2="368.45" y2="617.5" stroke="#1a1a1a" stroke-width="1.0" stroke-linecap="butt"/>
<text transform="translate(368.85 628.6) scale(1.0 1)" x="0" y="0" font-size="8.2" text-anchor="middle" fill="#3a3a3a" stroke="#3a3a3a" stroke-width="0.25">10<tspan font-size="5.74" dy="-2.79">&#8722;4</tspan></text>
<line x1="385.4" y1="613.9" x2="385.4" y2="616.3" stroke="#1a1a1a" stroke-width="1.0" stroke-linecap="butt"/>
<line x1="402.35" y1="613.9" x2="402.35" y2="617.5" stroke="#1a1a1a" stroke-width="1.0" stroke-linecap="butt"/>
<text transform="translate(402.75 628.6) scale(1.0 1)" x="0" y="0" font-size="8.2" text-anchor="middle" fill="#3a3a3a" stroke="#3a3a3a" stroke-width="0.25">10<tspan font-size="5.74" dy="-2.79">&#8722;2</tspan></text>
<line x1="419.3" y1="613.9" x2="419.3" y2="616.3" stroke="#1a1a1a" stroke-width="1.0" stroke-linecap="butt"/>
<line x1="436.25" y1="613.9" x2="436.25" y2="617.5" stroke="#1a1a1a" stroke-width="1.0" stroke-linecap="butt"/>
<text transform="translate(436.65 628.6) scale(1.0 1)" x="0" y="0" font-size="8.2" text-anchor="middle" fill="#3a3a3a" stroke="#3a3a3a" stroke-width="0.25">10<tspan font-size="5.74" dy="-2.79">0</tspan></text>
<line x1="453.2" y1="613.9" x2="453.2" y2="616.3" stroke="#1a1a1a" stroke-width="1.0" stroke-linecap="butt"/>
<line x1="470.15" y1="613.9" x2="470.15" y2="617.5" stroke="#1a1a1a" stroke-width="1.0" stroke-linecap="butt"/>
<text transform="translate(470.55 628.6) scale(1.0 1)" x="0" y="0" font-size="8.2" text-anchor="middle" fill="#3a3a3a" stroke="#3a3a3a" stroke-width="0.25">10<tspan font-size="5.74" dy="-2.79">2</tspan></text>
<line x1="487.1" y1="613.9" x2="487.1" y2="616.3" stroke="#1a1a1a" stroke-width="1.0" stroke-linecap="butt"/>
<text x="377.5" y="464" font-size="10.4" font-weight="bold" textLength="43.8" lengthAdjust="spacingAndGlyphs" >Perforin</text>
<text x="398.9" y="643.5" font-size="10.4" font-weight="bold" text-anchor="middle" textLength="106" lengthAdjust="spacingAndGlyphs" >Concentration (ng/mL)</text>
<text x="279.1" y="543.4" font-size="10.2" font-weight="bold" text-anchor="middle" textLength="87.5" lengthAdjust="spacingAndGlyphs" transform="rotate(-90 279.1 543.4)" >MFI (mean &#177; SEM)</text>
<polyline points="322.5,597 324.43,597 326.36,597 328.29,597 330.22,597 332.15,597 334.08,597 336.01,597 337.94,597 339.87,597 341.81,597 343.74,596.99 345.67,596.99 347.6,596.99 349.53,596.99 351.46,596.99 353.39,596.98 355.32,596.98 357.25,596.97 359.18,596.97 361.11,596.96 363.04,596.95 364.97,596.93 366.9,596.92 368.83,596.9 370.76,596.87 372.69,596.83 374.62,596.79 376.55,596.74 378.48,596.67 380.42,596.58 382.35,596.47 384.28,596.34 386.21,596.17 388.14,595.95 390.07,595.68 392,595.34 393.93,594.92 395.86,594.39 397.79,593.74 399.72,592.93 401.65,591.92 403.58,590.69 405.51,589.19 407.44,587.36 409.37,585.17 411.3,582.57 413.23,579.53 415.16,576.02 417.09,572.03 419.02,567.61 420.96,562.8 422.89,557.7 424.82,552.43 426.75,547.12 428.68,541.92 430.61,536.96 432.54,532.33 434.47,528.12 436.4,524.37 438.33,521.09 440.26,518.27 442.19,515.89 444.12,513.89 446.05,512.23 447.98,510.86 449.91,509.75 451.84,508.85 453.77,508.12 455.7,507.53 457.63,507.06 459.57,506.68 461.5,506.38 463.43,506.14 465.36,505.94 467.29,505.79 469.22,505.67 471.15,505.57 473.08,505.5 475.01,505.44 476.94,505.39" fill="none" stroke="#d62a60" stroke-width="1.3" stroke-linejoin="round"/>
<polyline points="322.5,603.2 324.43,603.2 326.36,603.2 328.29,603.2 330.22,603.2 332.15,603.2 334.08,603.2 336.01,603.2 337.94,603.2 339.87,603.2 341.81,603.2 343.74,603.2 345.67,603.2 347.6,603.2 349.53,603.2 351.46,603.2 353.39,603.19 355.32,603.19 357.25,603.19 359.18,603.19 361.11,603.18 363.04,603.17 364.97,603.17 366.9,603.15 368.83,603.14 370.76,603.12 372.69,603.09 374.62,603.05 376.55,603 378.48,602.93 380.42,602.84 382.35,602.72 384.28,602.56 386.21,602.34 388.14,602.06 390.07,601.69 392,601.19 393.93,600.55 395.86,599.72 397.79,598.66 399.72,597.33 401.65,595.68 403.58,593.69 405.51,591.34 407.44,588.67 409.37,585.74 411.3,582.66 413.23,579.53 415.16,576.51 417.09,573.69 419.02,571.18 420.96,569 422.89,567.18 424.82,565.69 426.75,564.49 428.68,563.55 430.61,562.82 432.54,562.25 434.47,561.82 436.4,561.49 438.33,561.24 440.26,561.06 442.19,560.92 444.12,560.81 446.05,560.73 447.98,560.67 449.91,560.63 451.84,560.6 453.77,560.57 455.7,560.55 457.63,560.54 459.57,560.53 461.5,560.52 463.43,560.52 465.36,560.51 467.29,560.51 469.22,560.51 471.15,560.51 473.08,560.5 475.01,560.5 476.94,560.5" fill="none" stroke="#2b3180" stroke-width="1.3" stroke-linejoin="round"/>
<polyline points="322.5,601 339.66,601 356.82,601 373.98,601 391.14,601 408.3,595.5 425.46,602.5 442.62,601.2 459.78,600.4 476.94,599.9" fill="none" stroke="#2b3180" stroke-width="1.1" stroke-linejoin="round" stroke-dasharray="2.6,2.2"/>
<polyline points="322.5,593.8 339.66,593.8 356.82,594 373.98,593.8 391.14,589 408.3,588.6 425.46,593 442.62,591.7 459.78,593.5 476.94,594.7" fill="none" stroke="#d23f6e" stroke-width="1.1" stroke-linejoin="round" stroke-dasharray="2.6,2.2"/>
<line x1="322.5" y1="590.7" x2="322.5" y2="597" stroke="#d23f6e" stroke-width="1.0" stroke-linecap="butt"/>
<line x1="320.5" y1="590.7" x2="324.5" y2="590.7" stroke="#d23f6e" stroke-width="1.0" stroke-linecap="butt"/>
<line x1="320.5" y1="597" x2="324.5" y2="597" stroke="#d23f6e" stroke-width="1.0" stroke-linecap="butt"/>
<line x1="339.66" y1="590.7" x2="339.66" y2="597" stroke="#d23f6e" stroke-width="1.0" stroke-linecap="butt"/>
<line x1="337.66" y1="590.7" x2="341.66" y2="590.7" stroke="#d23f6e" stroke-width="1.0" stroke-linecap="butt"/>
<line x1="337.66" y1="597" x2="341.66" y2="597" stroke="#d23f6e" stroke-width="1.0" stroke-linecap="butt"/>
<line x1="356.82" y1="590.7" x2="356.82" y2="597" stroke="#d23f6e" stroke-width="1.0" stroke-linecap="butt"/>
<line x1="354.82" y1="590.7" x2="358.82" y2="590.7" stroke="#d23f6e" stroke-width="1.0" stroke-linecap="butt"/>
<line x1="354.82" y1="597" x2="358.82" y2="597" stroke="#d23f6e" stroke-width="1.0" stroke-linecap="butt"/>
<line x1="373.98" y1="590.7" x2="373.98" y2="597" stroke="#d23f6e" stroke-width="1.0" stroke-linecap="butt"/>
<line x1="371.98" y1="590.7" x2="375.98" y2="590.7" stroke="#d23f6e" stroke-width="1.0" stroke-linecap="butt"/>
<line x1="371.98" y1="597" x2="375.98" y2="597" stroke="#d23f6e" stroke-width="1.0" stroke-linecap="butt"/>
<line x1="391.14" y1="583.7" x2="391.14" y2="593" stroke="#d23f6e" stroke-width="1.0" stroke-linecap="butt"/>
<line x1="389.14" y1="583.7" x2="393.14" y2="583.7" stroke="#d23f6e" stroke-width="1.0" stroke-linecap="butt"/>
<line x1="389.14" y1="593" x2="393.14" y2="593" stroke="#d23f6e" stroke-width="1.0" stroke-linecap="butt"/>
<line x1="408.3" y1="584.7" x2="408.3" y2="593.5" stroke="#d23f6e" stroke-width="1.0" stroke-linecap="butt"/>
<line x1="406.3" y1="584.7" x2="410.3" y2="584.7" stroke="#d23f6e" stroke-width="1.0" stroke-linecap="butt"/>
<line x1="406.3" y1="593.5" x2="410.3" y2="593.5" stroke="#d23f6e" stroke-width="1.0" stroke-linecap="butt"/>
<line x1="425.46" y1="584.7" x2="425.46" y2="599" stroke="#d23f6e" stroke-width="1.0" stroke-linecap="butt"/>
<line x1="423.46" y1="584.7" x2="427.46" y2="584.7" stroke="#d23f6e" stroke-width="1.0" stroke-linecap="butt"/>
<line x1="423.46" y1="599" x2="427.46" y2="599" stroke="#d23f6e" stroke-width="1.0" stroke-linecap="butt"/>
<line x1="442.62" y1="584.7" x2="442.62" y2="598" stroke="#d23f6e" stroke-width="1.0" stroke-linecap="butt"/>
<line x1="440.62" y1="584.7" x2="444.62" y2="584.7" stroke="#d23f6e" stroke-width="1.0" stroke-linecap="butt"/>
<line x1="440.62" y1="598" x2="444.62" y2="598" stroke="#d23f6e" stroke-width="1.0" stroke-linecap="butt"/>
<line x1="459.78" y1="588" x2="459.78" y2="598" stroke="#d23f6e" stroke-width="1.0" stroke-linecap="butt"/>
<line x1="457.78" y1="588" x2="461.78" y2="588" stroke="#d23f6e" stroke-width="1.0" stroke-linecap="butt"/>
<line x1="457.78" y1="598" x2="461.78" y2="598" stroke="#d23f6e" stroke-width="1.0" stroke-linecap="butt"/>
<line x1="476.94" y1="587.9" x2="476.94" y2="600" stroke="#d23f6e" stroke-width="1.0" stroke-linecap="butt"/>
<line x1="474.94" y1="587.9" x2="478.94" y2="587.9" stroke="#d23f6e" stroke-width="1.0" stroke-linecap="butt"/>
<line x1="474.94" y1="600" x2="478.94" y2="600" stroke="#d23f6e" stroke-width="1.0" stroke-linecap="butt"/>
<line x1="322.5" y1="597" x2="322.5" y2="605" stroke="#2f3a93" stroke-width="1.0" stroke-linecap="butt"/>
<line x1="320.5" y1="597" x2="324.5" y2="597" stroke="#2f3a93" stroke-width="1.0" stroke-linecap="butt"/>
<line x1="320.5" y1="605" x2="324.5" y2="605" stroke="#2f3a93" stroke-width="1.0" stroke-linecap="butt"/>
<line x1="339.66" y1="597" x2="339.66" y2="605" stroke="#2f3a93" stroke-width="1.0" stroke-linecap="butt"/>
<line x1="337.66" y1="597" x2="341.66" y2="597" stroke="#2f3a93" stroke-width="1.0" stroke-linecap="butt"/>
<line x1="337.66" y1="605" x2="341.66" y2="605" stroke="#2f3a93" stroke-width="1.0" stroke-linecap="butt"/>
<line x1="356.82" y1="597" x2="356.82" y2="605" stroke="#2f3a93" stroke-width="1.0" stroke-linecap="butt"/>
<line x1="354.82" y1="597" x2="358.82" y2="597" stroke="#2f3a93" stroke-width="1.0" stroke-linecap="butt"/>
<line x1="354.82" y1="605" x2="358.82" y2="605" stroke="#2f3a93" stroke-width="1.0" stroke-linecap="butt"/>
<line x1="373.98" y1="597" x2="373.98" y2="605" stroke="#2f3a93" stroke-width="1.0" stroke-linecap="butt"/>
<line x1="371.98" y1="597" x2="375.98" y2="597" stroke="#2f3a93" stroke-width="1.0" stroke-linecap="butt"/>
<line x1="371.98" y1="605" x2="375.98" y2="605" stroke="#2f3a93" stroke-width="1.0" stroke-linecap="butt"/>
<line x1="391.14" y1="597" x2="391.14" y2="605" stroke="#2f3a93" stroke-width="1.0" stroke-linecap="butt"/>
<line x1="389.14" y1="597" x2="393.14" y2="597" stroke="#2f3a93" stroke-width="1.0" stroke-linecap="butt"/>
<line x1="389.14" y1="605" x2="393.14" y2="605" stroke="#2f3a93" stroke-width="1.0" stroke-linecap="butt"/>
<line x1="408.3" y1="590" x2="408.3" y2="608" stroke="#2f3a93" stroke-width="1.0" stroke-linecap="butt"/>
<line x1="406.3" y1="590" x2="410.3" y2="590" stroke="#2f3a93" stroke-width="1.0" stroke-linecap="butt"/>
<line x1="406.3" y1="608" x2="410.3" y2="608" stroke="#2f3a93" stroke-width="1.0" stroke-linecap="butt"/>
<line x1="425.46" y1="596" x2="425.46" y2="608" stroke="#2f3a93" stroke-width="1.0" stroke-linecap="butt"/>
<line x1="423.46" y1="596" x2="427.46" y2="596" stroke="#2f3a93" stroke-width="1.0" stroke-linecap="butt"/>
<line x1="423.46" y1="608" x2="427.46" y2="608" stroke="#2f3a93" stroke-width="1.0" stroke-linecap="butt"/>
<line x1="442.62" y1="596" x2="442.62" y2="607" stroke="#2f3a93" stroke-width="1.0" stroke-linecap="butt"/>
<line x1="440.62" y1="596" x2="444.62" y2="596" stroke="#2f3a93" stroke-width="1.0" stroke-linecap="butt"/>
<line x1="440.62" y1="607" x2="444.62" y2="607" stroke="#2f3a93" stroke-width="1.0" stroke-linecap="butt"/>
<line x1="459.78" y1="597" x2="459.78" y2="605" stroke="#2f3a93" stroke-width="1.0" stroke-linecap="butt"/>
<line x1="457.78" y1="597" x2="461.78" y2="597" stroke="#2f3a93" stroke-width="1.0" stroke-linecap="butt"/>
<line x1="457.78" y1="605" x2="461.78" y2="605" stroke="#2f3a93" stroke-width="1.0" stroke-linecap="butt"/>
<line x1="476.94" y1="594" x2="476.94" y2="607" stroke="#2f3a93" stroke-width="1.0" stroke-linecap="butt"/>
<line x1="474.94" y1="594" x2="478.94" y2="594" stroke="#2f3a93" stroke-width="1.0" stroke-linecap="butt"/>
<line x1="474.94" y1="607" x2="478.94" y2="607" stroke="#2f3a93" stroke-width="1.0" stroke-linecap="butt"/>
<circle cx="322.5" cy="593.8" r="2.3" fill="#fff" stroke="#d23f6e" stroke-width="1.2"/>
<circle cx="339.66" cy="593.8" r="2.3" fill="#fff" stroke="#d23f6e" stroke-width="1.2"/>
<circle cx="356.82" cy="594" r="2.3" fill="#fff" stroke="#d23f6e" stroke-width="1.2"/>
<circle cx="373.98" cy="593.8" r="2.3" fill="#fff" stroke="#d23f6e" stroke-width="1.2"/>
<circle cx="391.14" cy="589" r="2.3" fill="#fff" stroke="#d23f6e" stroke-width="1.2"/>
<circle cx="408.3" cy="588.6" r="2.3" fill="#fff" stroke="#d23f6e" stroke-width="1.2"/>
<circle cx="425.46" cy="593" r="2.3" fill="#fff" stroke="#d23f6e" stroke-width="1.2"/>
<circle cx="442.62" cy="591.7" r="2.3" fill="#fff" stroke="#d23f6e" stroke-width="1.2"/>
<circle cx="459.78" cy="593.5" r="2.3" fill="#fff" stroke="#d23f6e" stroke-width="1.2"/>
<circle cx="476.94" cy="594.7" r="2.3" fill="#fff" stroke="#d23f6e" stroke-width="1.2"/>
<rect x="320.35" y="598.85" width="4.3" height="4.3" fill="#fff" stroke="#2f3a93" stroke-width="1.3"/>
<rect x="337.51" y="598.85" width="4.3" height="4.3" fill="#fff" stroke="#2f3a93" stroke-width="1.3"/>
<rect x="354.67" y="598.85" width="4.3" height="4.3" fill="#fff" stroke="#2f3a93" stroke-width="1.3"/>
<rect x="371.83" y="598.85" width="4.3" height="4.3" fill="#fff" stroke="#2f3a93" stroke-width="1.3"/>
<rect x="388.99" y="598.85" width="4.3" height="4.3" fill="#fff" stroke="#2f3a93" stroke-width="1.3"/>
<rect x="406.15" y="593.35" width="4.3" height="4.3" fill="#fff" stroke="#2f3a93" stroke-width="1.3"/>
<rect x="423.31" y="600.35" width="4.3" height="4.3" fill="#fff" stroke="#2f3a93" stroke-width="1.3"/>
<rect x="440.47" y="599.05" width="4.3" height="4.3" fill="#fff" stroke="#2f3a93" stroke-width="1.3"/>
<rect x="457.63" y="598.25" width="4.3" height="4.3" fill="#fff" stroke="#2f3a93" stroke-width="1.3"/>
<rect x="474.79" y="597.75" width="4.3" height="4.3" fill="#fff" stroke="#2f3a93" stroke-width="1.3"/>
<line x1="322.5" y1="600" x2="322.5" y2="607" stroke="#2f3a93" stroke-width="1.2" stroke-linecap="butt"/>
<line x1="320.7" y1="600" x2="324.3" y2="600" stroke="#2f3a93" stroke-width="1.2" stroke-linecap="butt"/>
<line x1="320.7" y1="607" x2="324.3" y2="607" stroke="#2f3a93" stroke-width="1.2" stroke-linecap="butt"/>
<line x1="339.66" y1="600" x2="339.66" y2="607" stroke="#2f3a93" stroke-width="1.2" stroke-linecap="butt"/>
<line x1="337.86" y1="600" x2="341.46" y2="600" stroke="#2f3a93" stroke-width="1.2" stroke-linecap="butt"/>
<line x1="337.86" y1="607" x2="341.46" y2="607" stroke="#2f3a93" stroke-width="1.2" stroke-linecap="butt"/>
<line x1="356.82" y1="600" x2="356.82" y2="607" stroke="#2f3a93" stroke-width="1.2" stroke-linecap="butt"/>
<line x1="355.02" y1="600" x2="358.62" y2="600" stroke="#2f3a93" stroke-width="1.2" stroke-linecap="butt"/>
<line x1="355.02" y1="607" x2="358.62" y2="607" stroke="#2f3a93" stroke-width="1.2" stroke-linecap="butt"/>
<line x1="373.98" y1="600" x2="373.98" y2="607" stroke="#2f3a93" stroke-width="1.2" stroke-linecap="butt"/>
<line x1="372.18" y1="600" x2="375.78" y2="600" stroke="#2f3a93" stroke-width="1.2" stroke-linecap="butt"/>
<line x1="372.18" y1="607" x2="375.78" y2="607" stroke="#2f3a93" stroke-width="1.2" stroke-linecap="butt"/>
<line x1="391.14" y1="598" x2="391.14" y2="605" stroke="#2f3a93" stroke-width="1.2" stroke-linecap="butt"/>
<line x1="389.34" y1="598" x2="392.94" y2="598" stroke="#2f3a93" stroke-width="1.2" stroke-linecap="butt"/>
<line x1="389.34" y1="605" x2="392.94" y2="605" stroke="#2f3a93" stroke-width="1.2" stroke-linecap="butt"/>
<line x1="408.3" y1="582" x2="408.3" y2="588" stroke="#2f3a93" stroke-width="1.2" stroke-linecap="butt"/>
<line x1="406.5" y1="582" x2="410.1" y2="582" stroke="#2f3a93" stroke-width="1.2" stroke-linecap="butt"/>
<line x1="406.5" y1="588" x2="410.1" y2="588" stroke="#2f3a93" stroke-width="1.2" stroke-linecap="butt"/>
<line x1="425.46" y1="566" x2="425.46" y2="575" stroke="#2f3a93" stroke-width="1.2" stroke-linecap="butt"/>
<line x1="423.66" y1="566" x2="427.26" y2="566" stroke="#2f3a93" stroke-width="1.2" stroke-linecap="butt"/>
<line x1="423.66" y1="575" x2="427.26" y2="575" stroke="#2f3a93" stroke-width="1.2" stroke-linecap="butt"/>
<line x1="442.62" y1="563" x2="442.62" y2="571" stroke="#2f3a93" stroke-width="1.2" stroke-linecap="butt"/>
<line x1="440.82" y1="563" x2="444.42" y2="563" stroke="#2f3a93" stroke-width="1.2" stroke-linecap="butt"/>
<line x1="440.82" y1="571" x2="444.42" y2="571" stroke="#2f3a93" stroke-width="1.2" stroke-linecap="butt"/>
<line x1="459.78" y1="558" x2="459.78" y2="563" stroke="#2f3a93" stroke-width="1.2" stroke-linecap="butt"/>
<line x1="457.98" y1="558" x2="461.58" y2="558" stroke="#2f3a93" stroke-width="1.2" stroke-linecap="butt"/>
<line x1="457.98" y1="563" x2="461.58" y2="563" stroke="#2f3a93" stroke-width="1.2" stroke-linecap="butt"/>
<line x1="476.94" y1="551.5" x2="476.94" y2="560" stroke="#2f3a93" stroke-width="1.2" stroke-linecap="butt"/>
<line x1="475.14" y1="551.5" x2="478.74" y2="551.5" stroke="#2f3a93" stroke-width="1.2" stroke-linecap="butt"/>
<line x1="475.14" y1="560" x2="478.74" y2="560" stroke="#2f3a93" stroke-width="1.2" stroke-linecap="butt"/>
<rect x="320.2" y="600.7" width="4.6" height="4.6" fill="#2f3a93"/>
<rect x="337.36" y="600.7" width="4.6" height="4.6" fill="#2f3a93"/>
<rect x="354.52" y="600.7" width="4.6" height="4.6" fill="#2f3a93"/>
<rect x="371.68" y="600.5" width="4.6" height="4.6" fill="#2f3a93"/>
<rect x="388.84" y="599.4" width="4.6" height="4.6" fill="#2f3a93"/>
<rect x="406" y="582.7" width="4.6" height="4.6" fill="#2f3a93"/>
<rect x="423.16" y="568.1" width="4.6" height="4.6" fill="#2f3a93"/>
<rect x="440.32" y="564.7" width="4.6" height="4.6" fill="#2f3a93"/>
<rect x="457.48" y="557.7" width="4.6" height="4.6" fill="#2f3a93"/>
<rect x="474.64" y="553.4" width="4.6" height="4.6" fill="#2f3a93"/>
<line x1="322.5" y1="592" x2="322.5" y2="603" stroke="#dc2a63" stroke-width="1.3" stroke-linecap="butt"/>
<line x1="320.1" y1="592" x2="324.9" y2="592" stroke="#dc2a63" stroke-width="1.3" stroke-linecap="butt"/>
<line x1="320.1" y1="603" x2="324.9" y2="603" stroke="#dc2a63" stroke-width="1.3" stroke-linecap="butt"/>
<line x1="339.66" y1="592" x2="339.66" y2="603" stroke="#dc2a63" stroke-width="1.3" stroke-linecap="butt"/>
<line x1="337.26" y1="592" x2="342.06" y2="592" stroke="#dc2a63" stroke-width="1.3" stroke-linecap="butt"/>
<line x1="337.26" y1="603" x2="342.06" y2="603" stroke="#dc2a63" stroke-width="1.3" stroke-linecap="butt"/>
<line x1="356.82" y1="592" x2="356.82" y2="603" stroke="#dc2a63" stroke-width="1.3" stroke-linecap="butt"/>
<line x1="354.42" y1="592" x2="359.22" y2="592" stroke="#dc2a63" stroke-width="1.3" stroke-linecap="butt"/>
<line x1="354.42" y1="603" x2="359.22" y2="603" stroke="#dc2a63" stroke-width="1.3" stroke-linecap="butt"/>
<line x1="373.98" y1="592" x2="373.98" y2="603" stroke="#dc2a63" stroke-width="1.3" stroke-linecap="butt"/>
<line x1="371.58" y1="592" x2="376.38" y2="592" stroke="#dc2a63" stroke-width="1.3" stroke-linecap="butt"/>
<line x1="371.58" y1="603" x2="376.38" y2="603" stroke="#dc2a63" stroke-width="1.3" stroke-linecap="butt"/>
<line x1="391.14" y1="590" x2="391.14" y2="598" stroke="#dc2a63" stroke-width="1.3" stroke-linecap="butt"/>
<line x1="388.74" y1="590" x2="393.54" y2="590" stroke="#dc2a63" stroke-width="1.3" stroke-linecap="butt"/>
<line x1="388.74" y1="598" x2="393.54" y2="598" stroke="#dc2a63" stroke-width="1.3" stroke-linecap="butt"/>
<line x1="408.3" y1="576" x2="408.3" y2="583" stroke="#dc2a63" stroke-width="1.3" stroke-linecap="butt"/>
<line x1="405.9" y1="576" x2="410.7" y2="576" stroke="#dc2a63" stroke-width="1.3" stroke-linecap="butt"/>
<line x1="405.9" y1="583" x2="410.7" y2="583" stroke="#dc2a63" stroke-width="1.3" stroke-linecap="butt"/>
<line x1="425.46" y1="551" x2="425.46" y2="556" stroke="#dc2a63" stroke-width="1.3" stroke-linecap="butt"/>
<line x1="423.06" y1="551" x2="427.86" y2="551" stroke="#dc2a63" stroke-width="1.3" stroke-linecap="butt"/>
<line x1="423.06" y1="556" x2="427.86" y2="556" stroke="#dc2a63" stroke-width="1.3" stroke-linecap="butt"/>
<line x1="442.62" y1="527" x2="442.62" y2="527" stroke="#dc2a63" stroke-width="1.3" stroke-linecap="butt"/>
<line x1="440.22" y1="527" x2="445.02" y2="527" stroke="#dc2a63" stroke-width="1.3" stroke-linecap="butt"/>
<line x1="440.22" y1="527" x2="445.02" y2="527" stroke="#dc2a63" stroke-width="1.3" stroke-linecap="butt"/>
<line x1="459.78" y1="483.2" x2="459.78" y2="511.6" stroke="#dc2a63" stroke-width="1.3" stroke-linecap="butt"/>
<line x1="456.88" y1="483.2" x2="462.68" y2="483.2" stroke="#dc2a63" stroke-width="1.3" stroke-linecap="butt"/>
<line x1="456.88" y1="511.6" x2="462.68" y2="511.6" stroke="#dc2a63" stroke-width="1.3" stroke-linecap="butt"/>
<line x1="476.94" y1="500.7" x2="476.94" y2="509.9" stroke="#dc2a63" stroke-width="1.3" stroke-linecap="butt"/>
<line x1="474.04" y1="500.7" x2="479.84" y2="500.7" stroke="#dc2a63" stroke-width="1.3" stroke-linecap="butt"/>
<line x1="474.04" y1="509.9" x2="479.84" y2="509.9" stroke="#dc2a63" stroke-width="1.3" stroke-linecap="butt"/>
<circle cx="322.5" cy="597.2" r="2.9" fill="#dc2a63"/>
<circle cx="339.66" cy="597.2" r="2.9" fill="#dc2a63"/>
<circle cx="356.82" cy="597.4" r="2.9" fill="#dc2a63"/>
<circle cx="373.98" cy="597.2" r="2.9" fill="#dc2a63"/>
<circle cx="391.14" cy="594.3" r="2.9" fill="#dc2a63"/>
<circle cx="408.3" cy="579.6" r="2.9" fill="#dc2a63"/>
<circle cx="425.46" cy="553.6" r="2.9" fill="#dc2a63"/>
<rect x="439.92" y="523.5" width="5.4" height="7" fill="#dc2a63"/>
<circle cx="459.78" cy="496.9" r="2.9" fill="#dc2a63"/>
<circle cx="476.94" cy="505.2" r="2.9" fill="#dc2a63"/>
<line x1="316.3" y1="484" x2="328.3" y2="484" stroke="#2f3a93" stroke-width="1.3" stroke-linecap="butt"/>
<rect x="320.1" y="481.8" width="4.4" height="4.4" fill="#2f3a93"/>
<text x="336.2" y="487.66" font-size="9.2" font-weight="bold" textLength="36.9" lengthAdjust="spacingAndGlyphs" >MGD011</text>
<line x1="316.3" y1="496.9" x2="318.3" y2="496.9" stroke="#2f3a93" stroke-width="1.1" stroke-linecap="butt"/>
<line x1="326.3" y1="496.9" x2="328.3" y2="496.9" stroke="#2f3a93" stroke-width="1.1" stroke-linecap="butt"/>
<rect x="320.15" y="494.75" width="4.3" height="4.3" fill="#fff" stroke="#2f3a93" stroke-width="1.3"/>
<text x="336.2" y="500.56" font-size="9.2" font-weight="bold" textLength="55" lengthAdjust="spacingAndGlyphs" >Control DART</text>
<line x1="316.3" y1="509.7" x2="328.3" y2="509.7" stroke="#dc2a63" stroke-width="1.3" stroke-linecap="butt"/>
<circle cx="322.3" cy="509.7" r="3" fill="#dc2a63"/>
<text x="336.2" y="513.36" font-size="9.2" font-weight="bold" textLength="36.9" lengthAdjust="spacingAndGlyphs" >MGD011</text>
<line x1="316.3" y1="522.5" x2="318.3" y2="522.5" stroke="#d23f6e" stroke-width="1.1" stroke-linecap="butt"/>
<line x1="326.3" y1="522.5" x2="328.3" y2="522.5" stroke="#d23f6e" stroke-width="1.1" stroke-linecap="butt"/>
<circle cx="322.3" cy="522.5" r="2.4" fill="#fff" stroke="#d23f6e" stroke-width="1.2"/>
<text x="336.2" y="526.16" font-size="9.2" font-weight="bold" textLength="55" lengthAdjust="spacingAndGlyphs" >Control DART</text>
<path d="M404.2,479.6H408.7V495.4H404.2" fill="none" stroke="#222" stroke-width="1.2" />
<text x="413" y="491.66" font-size="9.2" font-weight="bold" textLength="17.2" lengthAdjust="spacingAndGlyphs" >CD4</text>
<path d="M404.2,507H408.7V522.9H404.2" fill="none" stroke="#222" stroke-width="1.2" />
<text x="413" y="519.11" font-size="9.2" font-weight="bold" textLength="17.2" lengthAdjust="spacingAndGlyphs" >CD8</text>
<text x="0.9" y="685.4" font-size="16.5" font-weight="bold" fill="#111" >D</text>
<line x1="54.9" y1="692.8" x2="54.9" y2="828.1" stroke="#1a1a1a" stroke-width="1.3" stroke-linecap="butt"/>
<line x1="54.3" y1="827.5" x2="235.2" y2="827.5" stroke="#1a1a1a" stroke-width="1.3" stroke-linecap="butt"/>
<line x1="51.5" y1="825" x2="54.9" y2="825" stroke="#1a1a1a" stroke-width="1.0" stroke-linecap="butt"/>
<text x="50.6" y="828.55" font-size="9.8" text-anchor="end" fill="#2a2a2a" stroke="#2a2a2a" stroke-width="0.15">0</text>
<line x1="53.1" y1="810.35" x2="54.9" y2="810.35" stroke="#1a1a1a" stroke-width="1.0" stroke-linecap="butt"/>
<line x1="51.5" y1="795.7" x2="54.9" y2="795.7" stroke="#1a1a1a" stroke-width="1.0" stroke-linecap="butt"/>
<text x="50.6" y="799.25" font-size="9.8" text-anchor="end" fill="#2a2a2a" stroke="#2a2a2a" stroke-width="0.15">2,000</text>
<line x1="53.1" y1="781.05" x2="54.9" y2="781.05" stroke="#1a1a1a" stroke-width="1.0" stroke-linecap="butt"/>
<line x1="51.5" y1="766.4" x2="54.9" y2="766.4" stroke="#1a1a1a" stroke-width="1.0" stroke-linecap="butt"/>
<text x="50.6" y="769.95" font-size="9.8" text-anchor="end" fill="#2a2a2a" stroke="#2a2a2a" stroke-width="0.15">4,000</text>
<line x1="53.1" y1="751.75" x2="54.9" y2="751.75" stroke="#1a1a1a" stroke-width="1.0" stroke-linecap="butt"/>
<line x1="51.5" y1="737.1" x2="54.9" y2="737.1" stroke="#1a1a1a" stroke-width="1.0" stroke-linecap="butt"/>
<text x="50.6" y="740.65" font-size="9.8" text-anchor="end" fill="#2a2a2a" stroke="#2a2a2a" stroke-width="0.15">6,000</text>
<line x1="53.1" y1="722.45" x2="54.9" y2="722.45" stroke="#1a1a1a" stroke-width="1.0" stroke-linecap="butt"/>
<line x1="51.5" y1="707.8" x2="54.9" y2="707.8" stroke="#1a1a1a" stroke-width="1.0" stroke-linecap="butt"/>
<text x="50.6" y="711.35" font-size="9.8" text-anchor="end" fill="#2a2a2a" stroke="#2a2a2a" stroke-width="0.15">8,000</text>
<line x1="53.1" y1="693.15" x2="54.9" y2="693.15" stroke="#1a1a1a" stroke-width="1.0" stroke-linecap="butt"/>
<line x1="65.5" y1="827.5" x2="65.5" y2="831.1" stroke="#1a1a1a" stroke-width="1.0" stroke-linecap="butt"/>
<text transform="translate(66.4 841.8) scale(1.0 1)" x="0" y="0" font-size="8.7" text-anchor="middle" fill="#3a3a3a">10<tspan font-size="5.74" dy="-3.13">&#8722;6</tspan></text>
<line x1="86.64" y1="827.5" x2="86.64" y2="829.9" stroke="#1a1a1a" stroke-width="1.0" stroke-linecap="butt"/>
<line x1="107.78" y1="827.5" x2="107.78" y2="831.1" stroke="#1a1a1a" stroke-width="1.0" stroke-linecap="butt"/>
<text transform="translate(108.68 841.8) scale(1.0 1)" x="0" y="0" font-size="8.7" text-anchor="middle" fill="#3a3a3a">10<tspan font-size="5.74" dy="-3.13">&#8722;4</tspan></text>
<line x1="128.92" y1="827.5" x2="128.92" y2="829.9" stroke="#1a1a1a" stroke-width="1.0" stroke-linecap="butt"/>
<line x1="150.06" y1="827.5" x2="150.06" y2="831.1" stroke="#1a1a1a" stroke-width="1.0" stroke-linecap="butt"/>
<text transform="translate(150.96 841.8) scale(1.0 1)" x="0" y="0" font-size="8.7" text-anchor="middle" fill="#3a3a3a">10<tspan font-size="5.74" dy="-3.13">&#8722;2</tspan></text>
<line x1="171.2" y1="827.5" x2="171.2" y2="829.9" stroke="#1a1a1a" stroke-width="1.0" stroke-linecap="butt"/>
<line x1="192.34" y1="827.5" x2="192.34" y2="831.1" stroke="#1a1a1a" stroke-width="1.0" stroke-linecap="butt"/>
<text transform="translate(193.24 841.8) scale(1.0 1)" x="0" y="0" font-size="8.7" text-anchor="middle" fill="#3a3a3a">10<tspan font-size="5.74" dy="-3.13">0</tspan></text>
<line x1="213.48" y1="827.5" x2="213.48" y2="829.9" stroke="#1a1a1a" stroke-width="1.0" stroke-linecap="butt"/>
<line x1="234.62" y1="827.5" x2="234.62" y2="831.1" stroke="#1a1a1a" stroke-width="1.0" stroke-linecap="butt"/>
<text transform="translate(235.52 841.8) scale(1.0 1)" x="0" y="0" font-size="8.7" text-anchor="middle" fill="#3a3a3a">10<tspan font-size="5.74" dy="-3.13">2</tspan></text>
<text x="115.5" y="678" font-size="10.4" font-weight="bold" textLength="59.5" lengthAdjust="spacingAndGlyphs" >T Cells only</text>
<text x="146.2" y="856.3" font-size="10.4" font-weight="bold" text-anchor="middle" textLength="106" lengthAdjust="spacingAndGlyphs" >Concentration (ng/mL)</text>
<text x="19.2" y="759.7" font-size="10.4" font-weight="bold" text-anchor="middle" textLength="27.5" lengthAdjust="spacingAndGlyphs" transform="rotate(-90 19.2 759.7)" >pg/mL</text>
<polyline points="72.4,825.3 93.46,825.3 114.52,825.3 135.58,825.3 156.64,825.3 177.7,825.3 198.76,825.3 219.82,825.3" fill="none" stroke="#2b3180" stroke-width="1.1" stroke-linejoin="round" stroke-dasharray="2.6,2.2"/>
<polyline points="72.4,825 93.46,825 114.52,825 135.58,825 156.64,825 177.7,825 198.76,825 219.82,826" fill="none" stroke="#2b3180" stroke-width="1.3" stroke-linejoin="round"/>
<polyline points="72.4,825.3 93.46,825.3 114.52,825.3 135.58,825.3 156.64,825.3 177.7,825.3 198.76,825.3 219.82,825.3" fill="none" stroke="#d23f6e" stroke-width="1.1" stroke-linejoin="round" stroke-dasharray="2.6,2.2"/>
<polyline points="72.4,824.4 93.46,824.4 114.52,824.4 135.58,824.4 156.64,824.4 177.7,824.4 198.76,824.4 219.82,822.3" fill="none" stroke="#d62a60" stroke-width="1.4" stroke-linejoin="round"/>
<rect x="70.1" y="823.2" width="4.6" height="4.6" fill="#2f3a93"/>
<rect x="91.16" y="823.2" width="4.6" height="4.6" fill="#2f3a93"/>
<rect x="112.22" y="823.2" width="4.6" height="4.6" fill="#2f3a93"/>
<rect x="133.28" y="823.2" width="4.6" height="4.6" fill="#2f3a93"/>
<rect x="154.34" y="823.2" width="4.6" height="4.6" fill="#2f3a93"/>
<rect x="175.4" y="823.2" width="4.6" height="4.6" fill="#2f3a93"/>
<rect x="196.46" y="823.2" width="4.6" height="4.6" fill="#2f3a93"/>
<rect x="217.52" y="823.2" width="4.6" height="4.6" fill="#2f3a93"/>
<circle cx="72.4" cy="824.4" r="3" fill="#dc2a63"/>
<circle cx="93.46" cy="824.4" r="3" fill="#dc2a63"/>
<circle cx="114.52" cy="824.4" r="3" fill="#dc2a63"/>
<circle cx="135.58" cy="824.4" r="3" fill="#dc2a63"/>
<circle cx="156.64" cy="824.4" r="3" fill="#dc2a63"/>
<circle cx="177.7" cy="824.4" r="3" fill="#dc2a63"/>
<circle cx="198.76" cy="824.4" r="3" fill="#dc2a63"/>
<circle cx="219.82" cy="822.3" r="3" fill="#dc2a63"/>
<rect x="69.9" y="821.9" width="5" height="5" fill="#dc2a63"/>
<rect x="90.96" y="821.9" width="5" height="5" fill="#dc2a63"/>
<rect x="112.02" y="821.9" width="5" height="5" fill="#dc2a63"/>
<rect x="133.08" y="821.9" width="5" height="5" fill="#dc2a63"/>
<rect x="154.14" y="821.9" width="5" height="5" fill="#dc2a63"/>
<rect x="175.2" y="821.9" width="5" height="5" fill="#dc2a63"/>
<rect x="196.26" y="821.9" width="5" height="5" fill="#dc2a63"/>
<line x1="62.8" y1="698.8" x2="74.8" y2="698.8" stroke="#2f3a93" stroke-width="1.3" stroke-linecap="butt"/>
<rect x="66.6" y="696.6" width="4.4" height="4.4" fill="#2f3a93"/>
<text x="82.8" y="702.46" font-size="9.2" font-weight="bold" textLength="36.7" lengthAdjust="spacingAndGlyphs" >MGD011</text>
<line x1="62.8" y1="711.4" x2="64.8" y2="711.4" stroke="#2f3a93" stroke-width="1.1" stroke-linecap="butt"/>
<line x1="72.8" y1="711.4" x2="74.8" y2="711.4" stroke="#2f3a93" stroke-width="1.1" stroke-linecap="butt"/>
<rect x="66.65" y="709.25" width="4.3" height="4.3" fill="#fff" stroke="#2f3a93" stroke-width="1.3"/>
<text x="82.8" y="715.06" font-size="9.2" font-weight="bold" textLength="56" lengthAdjust="spacingAndGlyphs" >Control DART</text>
<line x1="62.8" y1="724.5" x2="74.8" y2="724.5" stroke="#dc2a63" stroke-width="1.3" stroke-linecap="butt"/>
<circle cx="68.8" cy="724.5" r="3" fill="#dc2a63"/>
<text x="82.8" y="728.16" font-size="9.2" font-weight="bold" textLength="36.7" lengthAdjust="spacingAndGlyphs" >MGD011</text>
<line x1="62.8" y1="737.2" x2="64.8" y2="737.2" stroke="#d23f6e" stroke-width="1.1" stroke-linecap="butt"/>
<line x1="72.8" y1="737.2" x2="74.8" y2="737.2" stroke="#d23f6e" stroke-width="1.1" stroke-linecap="butt"/>
<circle cx="68.8" cy="737.2" r="2.4" fill="#fff" stroke="#d23f6e" stroke-width="1.2"/>
<text x="82.8" y="740.86" font-size="9.2" font-weight="bold" textLength="56" lengthAdjust="spacingAndGlyphs" >Control DART</text>
<path d="M146,695.5H150.5V712H146" fill="none" stroke="#222" stroke-width="1.2" />
<text x="154.5" y="709.76" font-size="9.2" font-weight="bold" textLength="21.7" lengthAdjust="spacingAndGlyphs" >IFN-&#947;</text>
<path d="M146,722.5H150.5V738.75H146" fill="none" stroke="#222" stroke-width="1.2" />
<text x="154.5" y="736.16" font-size="9.2" font-weight="bold" textLength="16.7" lengthAdjust="spacingAndGlyphs" >IL-2</text>
<line x1="311.3" y1="692.8" x2="311.3" y2="828" stroke="#1a1a1a" stroke-width="1.3" stroke-linecap="butt"/>
<line x1="310.7" y1="827.4" x2="491.3" y2="827.4" stroke="#1a1a1a" stroke-width="1.3" stroke-linecap="butt"/>
<line x1="307.9" y1="825" x2="311.3" y2="825" stroke="#1a1a1a" stroke-width="1.0" stroke-linecap="butt"/>
<text x="306.4" y="828.55" font-size="9.8" text-anchor="end" fill="#2a2a2a" stroke="#2a2a2a" stroke-width="0.15">0</text>
<line x1="309.5" y1="810.35" x2="311.3" y2="810.35" stroke="#1a1a1a" stroke-width="1.0" stroke-linecap="butt"/>
<line x1="307.9" y1="795.7" x2="311.3" y2="795.7" stroke="#1a1a1a" stroke-width="1.0" stroke-linecap="butt"/>
<text x="306.4" y="799.25" font-size="9.8" text-anchor="end" fill="#2a2a2a" stroke="#2a2a2a" stroke-width="0.15">2,000</text>
<line x1="309.5" y1="781.05" x2="311.3" y2="781.05" stroke="#1a1a1a" stroke-width="1.0" stroke-linecap="butt"/>
<line x1="307.9" y1="766.4" x2="311.3" y2="766.4" stroke="#1a1a1a" stroke-width="1.0" stroke-linecap="butt"/>
<text x="306.4" y="769.95" font-size="9.8" text-anchor="end" fill="#2a2a2a" stroke="#2a2a2a" stroke-width="0.15">4,000</text>
<line x1="309.5" y1="751.75" x2="311.3" y2="751.75" stroke="#1a1a1a" stroke-width="1.0" stroke-linecap="butt"/>
<line x1="307.9" y1="737.1" x2="311.3" y2="737.1" stroke="#1a1a1a" stroke-width="1.0" stroke-linecap="butt"/>
<text x="306.4" y="740.65" font-size="9.8" text-anchor="end" fill="#2a2a2a" stroke="#2a2a2a" stroke-width="0.15">6,000</text>
<line x1="309.5" y1="722.45" x2="311.3" y2="722.45" stroke="#1a1a1a" stroke-width="1.0" stroke-linecap="butt"/>
<line x1="307.9" y1="707.8" x2="311.3" y2="707.8" stroke="#1a1a1a" stroke-width="1.0" stroke-linecap="butt"/>
<text x="306.4" y="711.35" font-size="9.8" text-anchor="end" fill="#2a2a2a" stroke="#2a2a2a" stroke-width="0.15">8,000</text>
<line x1="309.5" y1="693.15" x2="311.3" y2="693.15" stroke="#1a1a1a" stroke-width="1.0" stroke-linecap="butt"/>
<line x1="322" y1="827.4" x2="322" y2="831" stroke="#1a1a1a" stroke-width="1.0" stroke-linecap="butt"/>
<text transform="translate(322.9 841.8) scale(1.0 1)" x="0" y="0" font-size="8.7" text-anchor="middle" fill="#3a3a3a">10<tspan font-size="5.74" dy="-3.13">&#8722;6</tspan></text>
<line x1="343.15" y1="827.4" x2="343.15" y2="829.8" stroke="#1a1a1a" stroke-width="1.0" stroke-linecap="butt"/>
<line x1="364.3" y1="827.4" x2="364.3" y2="831" stroke="#1a1a1a" stroke-width="1.0" stroke-linecap="butt"/>
<text transform="translate(365.2 841.8) scale(1.0 1)" x="0" y="0" font-size="8.7" text-anchor="middle" fill="#3a3a3a">10<tspan font-size="5.74" dy="-3.13">&#8722;4</tspan></text>
<line x1="385.45" y1="827.4" x2="385.45" y2="829.8" stroke="#1a1a1a" stroke-width="1.0" stroke-linecap="butt"/>
<line x1="406.6" y1="827.4" x2="406.6" y2="831" stroke="#1a1a1a" stroke-width="1.0" stroke-linecap="butt"/>
<text transform="translate(407.5 841.8) scale(1.0 1)" x="0" y="0" font-size="8.7" text-anchor="middle" fill="#3a3a3a">10<tspan font-size="5.74" dy="-3.13">&#8722;2</tspan></text>
<line x1="427.75" y1="827.4" x2="427.75" y2="829.8" stroke="#1a1a1a" stroke-width="1.0" stroke-linecap="butt"/>
<line x1="448.9" y1="827.4" x2="448.9" y2="831" stroke="#1a1a1a" stroke-width="1.0" stroke-linecap="butt"/>
<text transform="translate(449.8 841.8) scale(1.0 1)" x="0" y="0" font-size="8.7" text-anchor="middle" fill="#3a3a3a">10<tspan font-size="5.74" dy="-3.13">0</tspan></text>
<line x1="470.05" y1="827.4" x2="470.05" y2="829.8" stroke="#1a1a1a" stroke-width="1.0" stroke-linecap="butt"/>
<line x1="491.2" y1="827.4" x2="491.2" y2="831" stroke="#1a1a1a" stroke-width="1.0" stroke-linecap="butt"/>
<text transform="translate(492.1 841.8) scale(1.0 1)" x="0" y="0" font-size="8.7" text-anchor="middle" fill="#3a3a3a">10<tspan font-size="5.74" dy="-3.13">2</tspan></text>
<text x="345.7" y="678" font-size="10.4" font-weight="bold" textLength="113.5" lengthAdjust="spacingAndGlyphs" >T Cells + Raji/GF Cells</text>
<text x="401.8" y="856.3" font-size="10.4" font-weight="bold" text-anchor="middle" textLength="105" lengthAdjust="spacingAndGlyphs" >Concentration (ng/mL)</text>
<text x="271.3" y="759.5" font-size="10.4" font-weight="bold" text-anchor="middle" textLength="27.7" lengthAdjust="spacingAndGlyphs" transform="rotate(-90 271.3 759.5)" >pg/mL</text>
<polyline points="329.6,825.6 350.78,825.6 371.96,825.6 393.14,825.6 414.32,825.6 435.5,825.6 456.68,825.6 477.86,825.6" fill="none" stroke="#2b3180" stroke-width="1.1" stroke-linejoin="round" stroke-dasharray="2.6,2.2"/>
<polyline points="329.6,825.6 350.78,825.6 371.96,825.6 393.14,825.6 414.32,825.6 435.5,825.6 456.68,825.6 477.86,825.6" fill="none" stroke="#d23f6e" stroke-width="1.1" stroke-linejoin="round" stroke-dasharray="2.6,2.2"/>
<polyline points="329.6,824.59 331.45,824.59 333.31,824.59 335.16,824.59 337.01,824.59 338.87,824.59 340.72,824.58 342.57,824.58 344.43,824.58 346.28,824.57 348.13,824.57 349.99,824.56 351.84,824.56 353.69,824.55 355.55,824.55 357.4,824.54 359.25,824.53 361.11,824.52 362.96,824.5 364.81,824.49 366.67,824.47 368.52,824.45 370.37,824.43 372.22,824.4 374.08,824.37 375.93,824.34 377.78,824.29 379.64,824.25 381.49,824.19 383.34,824.13 385.2,824.06 387.05,823.98 388.9,823.88 390.76,823.77 392.61,823.65 394.46,823.5 396.32,823.34 398.17,823.15 400.02,822.94 401.88,822.69 403.73,822.41 405.58,822.1 407.44,821.74 409.29,821.34 411.14,820.88 413,820.38 414.85,819.81 416.7,819.18 418.56,818.48 420.41,817.72 422.26,816.88 424.12,815.98 425.97,815 427.82,813.96 429.68,812.86 431.53,811.71 433.38,810.51 435.24,809.27 437.09,808.02 438.94,806.75 440.8,805.48 442.65,804.24 444.5,803.02 446.35,801.84 448.21,800.71 450.06,799.63 451.91,798.62 453.77,797.68 455.62,796.81 457.47,796.01 459.33,795.28 461.18,794.61 463.03,794.01 464.89,793.47 466.74,792.99 468.59,792.56 470.45,792.18 472.3,791.85 474.15,791.55 476.01,791.29 477.86,791.06" fill="none" stroke="#2b3180" stroke-width="1.3" stroke-linejoin="round"/>
<polyline points="329.6,823.29 331.45,823.28 333.31,823.28 335.16,823.28 337.01,823.27 338.87,823.27 340.72,823.26 342.57,823.26 344.43,823.25 346.28,823.24 348.13,823.23 349.99,823.21 351.84,823.2 353.69,823.18 355.55,823.16 357.4,823.13 359.25,823.1 361.11,823.07 362.96,823.03 364.81,822.98 366.67,822.92 368.52,822.85 370.37,822.77 372.22,822.68 374.08,822.56 375.93,822.43 377.78,822.28 379.64,822.1 381.49,821.89 383.34,821.64 385.2,821.34 387.05,821 388.9,820.6 390.76,820.13 392.61,819.58 394.46,818.94 396.32,818.19 398.17,817.32 400.02,816.32 401.88,815.16 403.73,813.83 405.58,812.3 407.44,810.55 409.29,808.57 411.14,806.33 413,803.83 414.85,801.04 416.7,797.97 418.56,794.61 420.41,790.97 422.26,787.08 424.12,782.96 425.97,778.65 427.82,774.21 429.68,769.68 431.53,765.14 433.38,760.63 435.24,756.23 437.09,751.98 438.94,747.93 440.8,744.12 442.65,740.57 444.5,737.3 446.35,734.32 448.21,731.62 450.06,729.21 451.91,727.06 453.77,725.16 455.62,723.48 457.47,722.02 459.33,720.74 461.18,719.64 463.03,718.68 464.89,717.85 466.74,717.14 468.59,716.53 470.45,716.01 472.3,715.56 474.15,715.18 476.01,714.86 477.86,714.58" fill="none" stroke="#d62a60" stroke-width="1.3" stroke-linejoin="round"/>
<circle cx="329.6" cy="825.6" r="2.2" fill="#fff" stroke="#d23f6e" stroke-width="1.0"/>
<circle cx="350.78" cy="825.6" r="2.2" fill="#fff" stroke="#d23f6e" stroke-width="1.0"/>
<circle cx="371.96" cy="825.6" r="2.2" fill="#fff" stroke="#d23f6e" stroke-width="1.0"/>
<circle cx="393.14" cy="825.6" r="2.2" fill="#fff" stroke="#d23f6e" stroke-width="1.0"/>
<circle cx="414.32" cy="825.6" r="2.2" fill="#fff" stroke="#d23f6e" stroke-width="1.0"/>
<circle cx="435.5" cy="825.6" r="2.2" fill="#fff" stroke="#d23f6e" stroke-width="1.0"/>
<circle cx="456.68" cy="825.6" r="2.2" fill="#fff" stroke="#d23f6e" stroke-width="1.0"/>
<circle cx="477.86" cy="825.6" r="2.2" fill="#fff" stroke="#d23f6e" stroke-width="1.0"/>
<rect x="391.19" y="823.65" width="3.9" height="3.9" fill="#fff" stroke="#d23f6e" stroke-width="1.1"/>
<rect x="412.37" y="823.65" width="3.9" height="3.9" fill="#fff" stroke="#d23f6e" stroke-width="1.1"/>
<rect x="433.55" y="823.65" width="3.9" height="3.9" fill="#fff" stroke="#d23f6e" stroke-width="1.1"/>
<rect x="454.73" y="823.65" width="3.9" height="3.9" fill="#fff" stroke="#d23f6e" stroke-width="1.1"/>
<rect x="475.91" y="823.65" width="3.9" height="3.9" fill="#fff" stroke="#d23f6e" stroke-width="1.1"/>
<rect x="327.3" y="822.3" width="4.6" height="4.6" fill="#2f3a93"/>
<rect x="348.48" y="822.3" width="4.6" height="4.6" fill="#2f3a93"/>
<rect x="369.66" y="822.3" width="4.6" height="4.6" fill="#2f3a93"/>
<rect x="390.84" y="822.5" width="4.6" height="4.6" fill="#2f3a93"/>
<rect x="412.02" y="816.2" width="4.6" height="4.6" fill="#2f3a93"/>
<rect x="433.2" y="806.7" width="4.6" height="4.6" fill="#2f3a93"/>
<rect x="454.38" y="795" width="4.6" height="4.6" fill="#2f3a93"/>
<rect x="475.56" y="789.1" width="4.6" height="4.6" fill="#2f3a93"/>
<line x1="456.68" y1="722.5" x2="456.68" y2="729.5" stroke="#dc2a63" stroke-width="1.2" stroke-linecap="butt"/>
<line x1="454.88" y1="722.5" x2="458.48" y2="722.5" stroke="#dc2a63" stroke-width="1.2" stroke-linecap="butt"/>
<line x1="454.88" y1="729.5" x2="458.48" y2="729.5" stroke="#dc2a63" stroke-width="1.2" stroke-linecap="butt"/>
<circle cx="329.6" cy="824.2" r="3" fill="#dc2a63"/>
<circle cx="350.78" cy="824.2" r="3" fill="#dc2a63"/>
<circle cx="371.96" cy="824.2" r="3" fill="#dc2a63"/>
<circle cx="393.14" cy="818.9" r="3" fill="#dc2a63"/>
<circle cx="414.32" cy="799.9" r="3" fill="#dc2a63"/>
<circle cx="435.5" cy="757.1" r="3" fill="#dc2a63"/>
<circle cx="456.68" cy="727.5" r="3" fill="#dc2a63"/>
<circle cx="477.86" cy="709.5" r="3" fill="#dc2a63"/>
<line x1="319" y1="699.1" x2="331" y2="699.1" stroke="#2f3a93" stroke-width="1.3" stroke-linecap="butt"/>
<rect x="322.8" y="696.9" width="4.4" height="4.4" fill="#2f3a93"/>
<text x="338.8" y="702.76" font-size="9.2" font-weight="bold" textLength="36.7" lengthAdjust="spacingAndGlyphs" >MGD011</text>
<line x1="319" y1="711.4" x2="321" y2="711.4" stroke="#2f3a93" stroke-width="1.1" stroke-linecap="butt"/>
<line x1="329" y1="711.4" x2="331" y2="711.4" stroke="#2f3a93" stroke-width="1.1" stroke-linecap="butt"/>
<rect x="322.85" y="709.25" width="4.3" height="4.3" fill="#fff" stroke="#2f3a93" stroke-width="1.3"/>
<text x="338.8" y="715.06" font-size="9.2" font-weight="bold" textLength="56" lengthAdjust="spacingAndGlyphs" >Control DART</text>
<line x1="319" y1="724.2" x2="331" y2="724.2" stroke="#dc2a63" stroke-width="1.3" stroke-linecap="butt"/>
<circle cx="325" cy="724.2" r="3" fill="#dc2a63"/>
<text x="338.8" y="727.86" font-size="9.2" font-weight="bold" textLength="36.7" lengthAdjust="spacingAndGlyphs" >MGD011</text>
<line x1="319" y1="737.2" x2="321" y2="737.2" stroke="#d23f6e" stroke-width="1.1" stroke-linecap="butt"/>
<line x1="329" y1="737.2" x2="331" y2="737.2" stroke="#d23f6e" stroke-width="1.1" stroke-linecap="butt"/>
<circle cx="325" cy="737.2" r="2.4" fill="#fff" stroke="#d23f6e" stroke-width="1.2"/>
<text x="338.8" y="740.86" font-size="9.2" font-weight="bold" textLength="56" lengthAdjust="spacingAndGlyphs" >Control DART</text>
<path d="M400.1,696.5H404.6V712.3H400.1" fill="none" stroke="#222" stroke-width="1.2" />
<text x="409.2" y="710.46" font-size="9.2" font-weight="bold" textLength="22.3" lengthAdjust="spacingAndGlyphs" >IFN-&#947;</text>
<path d="M400.1,723.7H404.6V739.5H400.1" fill="none" stroke="#222" stroke-width="1.2" />
<text x="409.2" y="736.66" font-size="9.2" font-weight="bold" textLength="15.4" lengthAdjust="spacingAndGlyphs" >IL-2</text>
</svg></body></html>
